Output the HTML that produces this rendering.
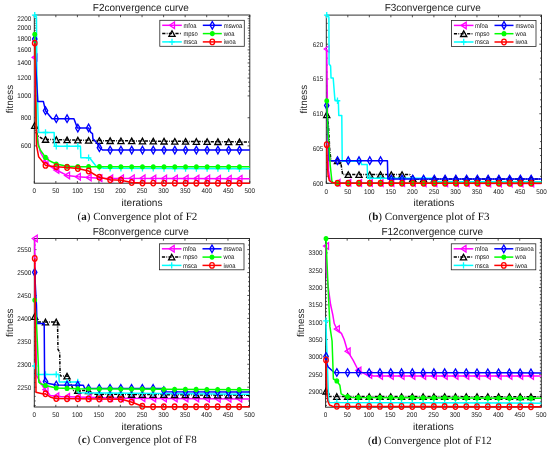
<!DOCTYPE html>
<html><head><meta charset="utf-8"><title>Convergence curves</title>
<style>html,body{margin:0;padding:0;background:#fff;}svg{display:block;text-rendering:geometricPrecision;}</style>
</head><body>
<svg width="550" height="449" viewBox="0 0 550 449">
<rect width="550" height="449" fill="#fff"/>
<path d="M34.3 183.2V181M34.3 15V17.2M55.85 183.2V181M55.85 15V17.2M77.4 183.2V181M77.4 15V17.2M98.95 183.2V181M98.95 15V17.2M120.5 183.2V181M120.5 15V17.2M142.05 183.2V181M142.05 15V17.2M163.6 183.2V181M163.6 15V17.2M185.15 183.2V181M185.15 15V17.2M206.7 183.2V181M206.7 15V17.2M228.25 183.2V181M228.25 15V17.2M249.8 183.2V181M249.8 15V17.2M34.3 145.9H36.5M249.8 145.9H247.6M34.3 117.74H36.5M249.8 117.74H247.6M34.3 95.9H36.5M249.8 95.9H247.6M34.3 78.05H36.5M249.8 78.05H247.6M34.3 62.96H36.5M249.8 62.96H247.6M34.3 49.89H36.5M249.8 49.89H247.6M34.3 38.36H36.5M249.8 38.36H247.6M34.3 28.05H36.5M249.8 28.05H247.6M34.3 18.72H36.5M249.8 18.72H247.6M34.3 91.12H35.7M249.8 91.12H248.4M34.3 86.57H35.7M249.8 86.57H248.4M34.3 82.22H35.7M249.8 82.22H248.4M34.3 74.06H35.7M249.8 74.06H248.4M34.3 70.22H35.7M249.8 70.22H248.4M34.3 66.52H35.7M249.8 66.52H248.4M34.3 59.53H35.7M249.8 59.53H248.4M34.3 56.21H35.7M249.8 56.21H248.4M34.3 53H35.7M249.8 53H248.4M34.3 46.88H35.7M249.8 46.88H248.4M34.3 43.96H35.7M249.8 43.96H248.4M34.3 41.12H35.7M249.8 41.12H248.4M34.3 35.68H35.7M249.8 35.68H248.4M34.3 33.07H35.7M249.8 33.07H248.4M34.3 30.53H35.7M249.8 30.53H248.4M34.3 25.63H35.7M249.8 25.63H248.4M34.3 23.27H35.7M249.8 23.27H248.4M34.3 20.97H35.7M249.8 20.97H248.4M34.3 16.52H35.7M249.8 16.52H248.4" stroke="#262626" stroke-width="0.8" fill="none"/>
<rect x="34.3" y="15" width="215.5" height="168.2" fill="none" stroke="#262626" stroke-width="0.95"/>
<g font-family="'Liberation Sans', Arial, Helvetica, sans-serif" fill="#222"><text transform="translate(34.3 193.4) scale(0.93 1)" font-size="6.8" text-anchor="middle">0</text><text transform="translate(55.85 193.4) scale(0.93 1)" font-size="6.8" text-anchor="middle">50</text><text transform="translate(77.4 193.4) scale(0.93 1)" font-size="6.8" text-anchor="middle">100</text><text transform="translate(98.95 193.4) scale(0.93 1)" font-size="6.8" text-anchor="middle">150</text><text transform="translate(120.5 193.4) scale(0.93 1)" font-size="6.8" text-anchor="middle">200</text><text transform="translate(142.05 193.4) scale(0.93 1)" font-size="6.8" text-anchor="middle">250</text><text transform="translate(163.6 193.4) scale(0.93 1)" font-size="6.8" text-anchor="middle">300</text><text transform="translate(185.15 193.4) scale(0.93 1)" font-size="6.8" text-anchor="middle">350</text><text transform="translate(206.7 193.4) scale(0.93 1)" font-size="6.8" text-anchor="middle">400</text><text transform="translate(228.25 193.4) scale(0.93 1)" font-size="6.8" text-anchor="middle">450</text><text transform="translate(249.8 193.4) scale(0.93 1)" font-size="6.8" text-anchor="middle">500</text><text transform="translate(31.3 148.3) scale(0.93 1)" font-size="6.8" text-anchor="end">600</text><text transform="translate(31.3 120.14) scale(0.93 1)" font-size="6.8" text-anchor="end">800</text><text transform="translate(31.3 98.3) scale(0.93 1)" font-size="6.8" text-anchor="end">1000</text><text transform="translate(31.3 80.45) scale(0.93 1)" font-size="6.8" text-anchor="end">1200</text><text transform="translate(31.3 65.36) scale(0.93 1)" font-size="6.8" text-anchor="end">1400</text><text transform="translate(31.3 52.29) scale(0.93 1)" font-size="6.8" text-anchor="end">1600</text><text transform="translate(31.3 40.76) scale(0.93 1)" font-size="6.8" text-anchor="end">1800</text><text transform="translate(31.3 30.45) scale(0.93 1)" font-size="6.8" text-anchor="end">2000</text><text transform="translate(31.3 21.12) scale(0.93 1)" font-size="6.8" text-anchor="end">2200</text></g>
<polyline points="34.73,57.4 35.16,85 36.02,120 37.32,136 38.61,145 40.77,153 45.51,161.4 50.68,166.5 56.28,170 67.06,175.4 77.83,176.8 88.61,177.5 99.38,178.2 249.8,178.8" fill="none" stroke="#ff00ff" stroke-width="1.5" stroke-linejoin="round"/>
<polygon points="32.23,57.4 37.23,54.1 37.23,60.7" fill="none" stroke="#ff00ff" stroke-width="1.3"/><polygon points="43.01,161.4 48.01,158.1 48.01,164.7" fill="none" stroke="#ff00ff" stroke-width="1.3"/><polygon points="53.78,170 58.78,166.7 58.78,173.3" fill="none" stroke="#ff00ff" stroke-width="1.3"/><polygon points="64.56,175.4 69.56,172.1 69.56,178.7" fill="none" stroke="#ff00ff" stroke-width="1.3"/><polygon points="75.33,176.8 80.33,173.5 80.33,180.1" fill="none" stroke="#ff00ff" stroke-width="1.3"/><polygon points="86.11,177.5 91.11,174.2 91.11,180.8" fill="none" stroke="#ff00ff" stroke-width="1.3"/><polygon points="96.88,178.2 101.88,174.9 101.88,181.5" fill="none" stroke="#ff00ff" stroke-width="1.3"/><polygon points="107.66,178.24 112.66,174.94 112.66,181.54" fill="none" stroke="#ff00ff" stroke-width="1.3"/><polygon points="118.43,178.29 123.43,174.99 123.43,181.59" fill="none" stroke="#ff00ff" stroke-width="1.3"/><polygon points="129.21,178.33 134.21,175.03 134.21,181.63" fill="none" stroke="#ff00ff" stroke-width="1.3"/><polygon points="139.98,178.37 144.98,175.07 144.98,181.67" fill="none" stroke="#ff00ff" stroke-width="1.3"/><polygon points="150.76,178.41 155.76,175.11 155.76,181.71" fill="none" stroke="#ff00ff" stroke-width="1.3"/><polygon points="161.53,178.46 166.53,175.16 166.53,181.76" fill="none" stroke="#ff00ff" stroke-width="1.3"/><polygon points="172.31,178.5 177.31,175.2 177.31,181.8" fill="none" stroke="#ff00ff" stroke-width="1.3"/><polygon points="183.08,178.54 188.08,175.24 188.08,181.84" fill="none" stroke="#ff00ff" stroke-width="1.3"/><polygon points="193.86,178.59 198.86,175.29 198.86,181.89" fill="none" stroke="#ff00ff" stroke-width="1.3"/><polygon points="204.63,178.63 209.63,175.33 209.63,181.93" fill="none" stroke="#ff00ff" stroke-width="1.3"/><polygon points="215.41,178.67 220.41,175.37 220.41,181.97" fill="none" stroke="#ff00ff" stroke-width="1.3"/><polygon points="226.18,178.72 231.18,175.42 231.18,182.02" fill="none" stroke="#ff00ff" stroke-width="1.3"/><polygon points="236.96,178.76 241.96,175.46 241.96,182.06" fill="none" stroke="#ff00ff" stroke-width="1.3"/>
<polyline points="34.73,125.5 36.02,132.5 38.61,136.3 43.35,139.4 99.38,140.6 249.8,142" fill="none" stroke="#000000" stroke-width="1.5" stroke-linejoin="round" stroke-dasharray="3.2 1.3 0.8 1.3"/>
<polygon points="34.73,122.7 37.83,128.3 31.63,128.3" fill="none" stroke="#000000" stroke-width="1.3"/><polygon points="45.51,136.65 48.61,142.25 42.41,142.25" fill="none" stroke="#000000" stroke-width="1.3"/><polygon points="56.28,136.88 59.38,142.48 53.18,142.48" fill="none" stroke="#000000" stroke-width="1.3"/><polygon points="67.06,137.11 70.16,142.71 63.96,142.71" fill="none" stroke="#000000" stroke-width="1.3"/><polygon points="77.83,137.34 80.93,142.94 74.73,142.94" fill="none" stroke="#000000" stroke-width="1.3"/><polygon points="88.61,137.57 91.71,143.17 85.51,143.17" fill="none" stroke="#000000" stroke-width="1.3"/><polygon points="99.38,137.8 102.48,143.4 96.28,143.4" fill="none" stroke="#000000" stroke-width="1.3"/><polygon points="110.16,137.9 113.26,143.5 107.06,143.5" fill="none" stroke="#000000" stroke-width="1.3"/><polygon points="120.93,138 124.03,143.6 117.83,143.6" fill="none" stroke="#000000" stroke-width="1.3"/><polygon points="131.71,138.1 134.81,143.7 128.61,143.7" fill="none" stroke="#000000" stroke-width="1.3"/><polygon points="142.48,138.2 145.58,143.8 139.38,143.8" fill="none" stroke="#000000" stroke-width="1.3"/><polygon points="153.26,138.3 156.36,143.9 150.16,143.9" fill="none" stroke="#000000" stroke-width="1.3"/><polygon points="164.03,138.4 167.13,144 160.93,144" fill="none" stroke="#000000" stroke-width="1.3"/><polygon points="174.81,138.5 177.91,144.1 171.71,144.1" fill="none" stroke="#000000" stroke-width="1.3"/><polygon points="185.58,138.6 188.68,144.2 182.48,144.2" fill="none" stroke="#000000" stroke-width="1.3"/><polygon points="196.36,138.7 199.46,144.3 193.26,144.3" fill="none" stroke="#000000" stroke-width="1.3"/><polygon points="207.13,138.8 210.23,144.4 204.03,144.4" fill="none" stroke="#000000" stroke-width="1.3"/><polygon points="217.91,138.9 221.01,144.5 214.81,144.5" fill="none" stroke="#000000" stroke-width="1.3"/><polygon points="228.68,139 231.78,144.6 225.58,144.6" fill="none" stroke="#000000" stroke-width="1.3"/><polygon points="239.46,139.1 242.56,144.7 236.36,144.7" fill="none" stroke="#000000" stroke-width="1.3"/>
<polyline points="34.73,15.1 36.45,17 36.89,75 38.18,120 38.61,132.5 54.13,132.5 54.56,146.3 80.42,146.3 80.85,157.8 89.47,157.8 96.36,166.5 103.69,168.2 249.8,168.8" fill="none" stroke="#00ffff" stroke-width="1.5" stroke-linejoin="round"/>
<path d="M31.93 15.1H37.53M34.73 11.9V18.3" stroke="#00ffff" stroke-width="1.3" fill="none"/><path d="M42.71 132.5H48.31M45.51 129.3V135.7" stroke="#00ffff" stroke-width="1.3" fill="none"/><path d="M53.48 146.3H59.08M56.28 143.1V149.5" stroke="#00ffff" stroke-width="1.3" fill="none"/><path d="M64.26 146.3H69.86M67.06 143.1V149.5" stroke="#00ffff" stroke-width="1.3" fill="none"/><path d="M75.03 146.3H80.63M77.83 143.1V149.5" stroke="#00ffff" stroke-width="1.3" fill="none"/><path d="M85.81 157.8H91.41M88.61 154.6V161" stroke="#00ffff" stroke-width="1.3" fill="none"/><path d="M96.58 167.2H102.18M99.38 164V170.4" stroke="#00ffff" stroke-width="1.3" fill="none"/><path d="M107.36 168.23H112.96M110.16 165.03V171.43" stroke="#00ffff" stroke-width="1.3" fill="none"/><path d="M118.13 168.27H123.73M120.93 165.07V171.47" stroke="#00ffff" stroke-width="1.3" fill="none"/><path d="M128.91 168.32H134.51M131.71 165.12V171.52" stroke="#00ffff" stroke-width="1.3" fill="none"/><path d="M139.68 168.36H145.28M142.48 165.16V171.56" stroke="#00ffff" stroke-width="1.3" fill="none"/><path d="M150.46 168.4H156.06M153.26 165.2V171.6" stroke="#00ffff" stroke-width="1.3" fill="none"/><path d="M161.23 168.45H166.83M164.03 165.25V171.65" stroke="#00ffff" stroke-width="1.3" fill="none"/><path d="M172.01 168.49H177.61M174.81 165.29V171.69" stroke="#00ffff" stroke-width="1.3" fill="none"/><path d="M182.78 168.54H188.38M185.58 165.34V171.74" stroke="#00ffff" stroke-width="1.3" fill="none"/><path d="M193.56 168.58H199.16M196.36 165.38V171.78" stroke="#00ffff" stroke-width="1.3" fill="none"/><path d="M204.33 168.62H209.93M207.13 165.42V171.82" stroke="#00ffff" stroke-width="1.3" fill="none"/><path d="M215.11 168.67H220.71M217.91 165.47V171.87" stroke="#00ffff" stroke-width="1.3" fill="none"/><path d="M225.88 168.71H231.48M228.68 165.51V171.91" stroke="#00ffff" stroke-width="1.3" fill="none"/><path d="M236.66 168.76H242.26M239.46 165.56V171.96" stroke="#00ffff" stroke-width="1.3" fill="none"/>
<polyline points="34.73,39.1 36.02,70 37.75,101.4 43.35,101.4 45.51,110.7 51.97,118.7 73.95,118.7 77.4,128.1 88.61,127.9 90.76,132.4 92.48,133.6 92.92,138.9 94.64,140.5 97.66,144.1 99.38,147.7 102.83,150.1 249.8,150.1" fill="none" stroke="#0000ff" stroke-width="1.5" stroke-linejoin="round"/>
<polygon points="34.73,35.3 36.93,39.1 34.73,42.9 32.53,39.1" fill="none" stroke="#0000ff" stroke-width="1.3"/><polygon points="45.51,106.9 47.71,110.7 45.51,114.5 43.31,110.7" fill="none" stroke="#0000ff" stroke-width="1.3"/><polygon points="56.28,114.9 58.48,118.7 56.28,122.5 54.08,118.7" fill="none" stroke="#0000ff" stroke-width="1.3"/><polygon points="67.06,114.9 69.26,118.7 67.06,122.5 64.86,118.7" fill="none" stroke="#0000ff" stroke-width="1.3"/><polygon points="77.83,124.29 80.03,128.09 77.83,131.89 75.63,128.09" fill="none" stroke="#0000ff" stroke-width="1.3"/><polygon points="88.61,124.1 90.81,127.9 88.61,131.7 86.41,127.9" fill="none" stroke="#0000ff" stroke-width="1.3"/><polygon points="99.38,143.9 101.58,147.7 99.38,151.5 97.18,147.7" fill="none" stroke="#0000ff" stroke-width="1.3"/><polygon points="110.16,146.3 112.36,150.1 110.16,153.9 107.96,150.1" fill="none" stroke="#0000ff" stroke-width="1.3"/><polygon points="120.93,146.3 123.13,150.1 120.93,153.9 118.73,150.1" fill="none" stroke="#0000ff" stroke-width="1.3"/><polygon points="131.71,146.3 133.91,150.1 131.71,153.9 129.51,150.1" fill="none" stroke="#0000ff" stroke-width="1.3"/><polygon points="142.48,146.3 144.68,150.1 142.48,153.9 140.28,150.1" fill="none" stroke="#0000ff" stroke-width="1.3"/><polygon points="153.26,146.3 155.46,150.1 153.26,153.9 151.06,150.1" fill="none" stroke="#0000ff" stroke-width="1.3"/><polygon points="164.03,146.3 166.23,150.1 164.03,153.9 161.83,150.1" fill="none" stroke="#0000ff" stroke-width="1.3"/><polygon points="174.81,146.3 177.01,150.1 174.81,153.9 172.61,150.1" fill="none" stroke="#0000ff" stroke-width="1.3"/><polygon points="185.58,146.3 187.78,150.1 185.58,153.9 183.38,150.1" fill="none" stroke="#0000ff" stroke-width="1.3"/><polygon points="196.36,146.3 198.56,150.1 196.36,153.9 194.16,150.1" fill="none" stroke="#0000ff" stroke-width="1.3"/><polygon points="207.13,146.3 209.33,150.1 207.13,153.9 204.93,150.1" fill="none" stroke="#0000ff" stroke-width="1.3"/><polygon points="217.91,146.3 220.11,150.1 217.91,153.9 215.71,150.1" fill="none" stroke="#0000ff" stroke-width="1.3"/><polygon points="228.68,146.3 230.88,150.1 228.68,153.9 226.48,150.1" fill="none" stroke="#0000ff" stroke-width="1.3"/><polygon points="239.46,146.3 241.66,150.1 239.46,153.9 237.26,150.1" fill="none" stroke="#0000ff" stroke-width="1.3"/>
<polyline points="34.73,34.3 35.59,90 36.45,130 38.18,145 40.33,150 45.51,157.4 49.82,161 56.28,164 67.06,166.3 77.83,166.7 249.8,166.8" fill="none" stroke="#00ff00" stroke-width="1.5" stroke-linejoin="round"/>
<ellipse cx="34.73" cy="34.3" rx="2.4" ry="2.6" fill="#00ff00"/><ellipse cx="45.51" cy="157.4" rx="2.4" ry="2.6" fill="#00ff00"/><ellipse cx="56.28" cy="164" rx="2.4" ry="2.6" fill="#00ff00"/><ellipse cx="67.06" cy="166.3" rx="2.4" ry="2.6" fill="#00ff00"/><ellipse cx="77.83" cy="166.7" rx="2.4" ry="2.6" fill="#00ff00"/><ellipse cx="88.61" cy="166.71" rx="2.4" ry="2.6" fill="#00ff00"/><ellipse cx="99.38" cy="166.71" rx="2.4" ry="2.6" fill="#00ff00"/><ellipse cx="110.16" cy="166.72" rx="2.4" ry="2.6" fill="#00ff00"/><ellipse cx="120.93" cy="166.73" rx="2.4" ry="2.6" fill="#00ff00"/><ellipse cx="131.71" cy="166.73" rx="2.4" ry="2.6" fill="#00ff00"/><ellipse cx="142.48" cy="166.74" rx="2.4" ry="2.6" fill="#00ff00"/><ellipse cx="153.26" cy="166.74" rx="2.4" ry="2.6" fill="#00ff00"/><ellipse cx="164.03" cy="166.75" rx="2.4" ry="2.6" fill="#00ff00"/><ellipse cx="174.81" cy="166.76" rx="2.4" ry="2.6" fill="#00ff00"/><ellipse cx="185.58" cy="166.76" rx="2.4" ry="2.6" fill="#00ff00"/><ellipse cx="196.36" cy="166.77" rx="2.4" ry="2.6" fill="#00ff00"/><ellipse cx="207.13" cy="166.78" rx="2.4" ry="2.6" fill="#00ff00"/><ellipse cx="217.91" cy="166.78" rx="2.4" ry="2.6" fill="#00ff00"/><ellipse cx="228.68" cy="166.79" rx="2.4" ry="2.6" fill="#00ff00"/><ellipse cx="239.46" cy="166.79" rx="2.4" ry="2.6" fill="#00ff00"/>
<polyline points="34.73,43.1 35.59,100 36.45,145 38.61,156.7 45.51,165.4 56.28,166.7 67.06,167.5 77.83,168.5 88.61,171 99.38,177.3 110.16,179.8 120.93,180.3 131.71,182.5 142.48,183.1 249.8,183.3" fill="none" stroke="#ff0000" stroke-width="1.5" stroke-linejoin="round"/>
<ellipse cx="34.73" cy="43.1" rx="2.3" ry="2.8" fill="none" stroke="#ff0000" stroke-width="1.3"/><ellipse cx="45.51" cy="165.4" rx="2.3" ry="2.8" fill="none" stroke="#ff0000" stroke-width="1.3"/><ellipse cx="56.28" cy="166.7" rx="2.3" ry="2.8" fill="none" stroke="#ff0000" stroke-width="1.3"/><ellipse cx="67.06" cy="167.5" rx="2.3" ry="2.8" fill="none" stroke="#ff0000" stroke-width="1.3"/><ellipse cx="77.83" cy="168.5" rx="2.3" ry="2.8" fill="none" stroke="#ff0000" stroke-width="1.3"/><ellipse cx="88.61" cy="171" rx="2.3" ry="2.8" fill="none" stroke="#ff0000" stroke-width="1.3"/><ellipse cx="99.38" cy="177.3" rx="2.3" ry="2.8" fill="none" stroke="#ff0000" stroke-width="1.3"/><ellipse cx="110.16" cy="179.8" rx="2.3" ry="2.8" fill="none" stroke="#ff0000" stroke-width="1.3"/><ellipse cx="120.93" cy="180.3" rx="2.3" ry="2.8" fill="none" stroke="#ff0000" stroke-width="1.3"/><ellipse cx="131.71" cy="182.5" rx="2.3" ry="2.8" fill="none" stroke="#ff0000" stroke-width="1.3"/><ellipse cx="142.48" cy="183.1" rx="2.3" ry="2.8" fill="none" stroke="#ff0000" stroke-width="1.3"/><ellipse cx="153.26" cy="183.12" rx="2.3" ry="2.8" fill="none" stroke="#ff0000" stroke-width="1.3"/><ellipse cx="164.03" cy="183.14" rx="2.3" ry="2.8" fill="none" stroke="#ff0000" stroke-width="1.3"/><ellipse cx="174.81" cy="183.16" rx="2.3" ry="2.8" fill="none" stroke="#ff0000" stroke-width="1.3"/><ellipse cx="185.58" cy="183.18" rx="2.3" ry="2.8" fill="none" stroke="#ff0000" stroke-width="1.3"/><ellipse cx="196.36" cy="183.2" rx="2.3" ry="2.8" fill="none" stroke="#ff0000" stroke-width="1.3"/><ellipse cx="207.13" cy="183.22" rx="2.3" ry="2.8" fill="none" stroke="#ff0000" stroke-width="1.3"/><ellipse cx="217.91" cy="183.24" rx="2.3" ry="2.8" fill="none" stroke="#ff0000" stroke-width="1.3"/><ellipse cx="228.68" cy="183.26" rx="2.3" ry="2.8" fill="none" stroke="#ff0000" stroke-width="1.3"/><ellipse cx="239.46" cy="183.28" rx="2.3" ry="2.8" fill="none" stroke="#ff0000" stroke-width="1.3"/>
<g font-family="'Liberation Sans', Arial, Helvetica, sans-serif" fill="#1a1a1a"><text transform="translate(140.85 11.1) scale(0.97 1)" font-size="10.3" text-anchor="middle">F2convergence curve</text></g>
<text x="142.05" y="206.1" text-anchor="middle" font-family="'Liberation Sans', Arial, Helvetica, sans-serif" font-size="10.1" fill="#1a1a1a">iterations</text>
<text transform="translate(12.7 99.1) rotate(-90)" text-anchor="middle" font-family="'Liberation Sans', Arial, Helvetica, sans-serif" font-size="9.9" fill="#262626">fitness</text>
<rect x="159.8" y="20.3" width="84.5" height="26" fill="#fff" stroke="#262626" stroke-width="0.8"/>
<g font-family="'Liberation Sans', Arial, Helvetica, sans-serif" fill="#111"><path d="M162.2 25.3H181.8" stroke="#ff00ff" stroke-width="1.5"/><polygon points="169.5,25.3 174.5,22 174.5,28.6" fill="none" stroke="#ff00ff" stroke-width="1.3"/><text transform="translate(183.4 27.6) scale(0.86 1)" font-size="6.8">mfoa</text><path d="M162.2 33.6H181.8" stroke="#000000" stroke-width="1.5" stroke-dasharray="3.2 1.3 0.8 1.3"/><polygon points="172,30.8 175.1,36.4 168.9,36.4" fill="none" stroke="#000000" stroke-width="1.3"/><text transform="translate(183.4 35.9) scale(0.86 1)" font-size="6.8">mpso</text><path d="M162.2 41.9H181.8" stroke="#00ffff" stroke-width="1.5"/><path d="M169.2 41.9H174.8M172 38.7V45.1" stroke="#00ffff" stroke-width="1.3" fill="none"/><text transform="translate(183.4 44.2) scale(0.86 1)" font-size="6.8">msca</text><path d="M202.8 25.3H221.8" stroke="#0000ff" stroke-width="1.5"/><polygon points="212.3,21.5 214.5,25.3 212.3,29.1 210.1,25.3" fill="none" stroke="#0000ff" stroke-width="1.3"/><text transform="translate(223.8 27.6) scale(0.86 1)" font-size="6.8">mswoa</text><path d="M202.8 33.6H221.8" stroke="#00ff00" stroke-width="1.5"/><ellipse cx="212.3" cy="33.6" rx="2.4" ry="2.6" fill="#00ff00"/><text transform="translate(223.8 35.9) scale(0.86 1)" font-size="6.8">woa</text><path d="M202.8 41.9H221.8" stroke="#ff0000" stroke-width="1.5"/><ellipse cx="212.3" cy="41.9" rx="2.3" ry="2.8" fill="none" stroke="#ff0000" stroke-width="1.3"/><text transform="translate(223.8 44.2) scale(0.86 1)" font-size="6.8">iwoa</text></g>
<text x="77.6" y="220" font-family="'Liberation Serif', 'Times New Roman', serif" font-size="11.0" fill="#111" textLength="119.7" lengthAdjust="spacingAndGlyphs">(<tspan font-weight="bold">a</tspan>) Convergence plot of F2</text>
<path d="M326.3 183.3V181.1M326.3 15.1V17.3M347.82 183.3V181.1M347.82 15.1V17.3M369.34 183.3V181.1M369.34 15.1V17.3M390.86 183.3V181.1M390.86 15.1V17.3M412.38 183.3V181.1M412.38 15.1V17.3M433.9 183.3V181.1M433.9 15.1V17.3M455.42 183.3V181.1M455.42 15.1V17.3M476.94 183.3V181.1M476.94 15.1V17.3M498.46 183.3V181.1M498.46 15.1V17.3M519.98 183.3V181.1M519.98 15.1V17.3M541.5 183.3V181.1M541.5 15.1V17.3M326.3 183.3H328.5M541.5 183.3H539.3M326.3 148.53H328.5M541.5 148.53H539.3M326.3 113.75H328.5M541.5 113.75H539.3M326.3 78.98H328.5M541.5 78.98H539.3M326.3 44.2H328.5M541.5 44.2H539.3M326.3 176.34H327.7M541.5 176.34H540.1M326.3 169.39H327.7M541.5 169.39H540.1M326.3 162.44H327.7M541.5 162.44H540.1M326.3 155.48H327.7M541.5 155.48H540.1M326.3 141.57H327.7M541.5 141.57H540.1M326.3 134.62H327.7M541.5 134.62H540.1M326.3 127.66H327.7M541.5 127.66H540.1M326.3 120.71H327.7M541.5 120.71H540.1M326.3 106.8H327.7M541.5 106.8H540.1M326.3 99.84H327.7M541.5 99.84H540.1M326.3 92.89H327.7M541.5 92.89H540.1M326.3 85.93H327.7M541.5 85.93H540.1M326.3 72.02H327.7M541.5 72.02H540.1M326.3 65.07H327.7M541.5 65.07H540.1M326.3 58.11H327.7M541.5 58.11H540.1M326.3 51.16H327.7M541.5 51.16H540.1M326.3 37.25H327.7M541.5 37.25H540.1M326.3 30.29H327.7M541.5 30.29H540.1M326.3 23.34H327.7M541.5 23.34H540.1M326.3 16.38H327.7M541.5 16.38H540.1" stroke="#262626" stroke-width="0.8" fill="none"/>
<rect x="326.3" y="15.1" width="215.2" height="168.2" fill="none" stroke="#262626" stroke-width="0.95"/>
<g font-family="'Liberation Sans', Arial, Helvetica, sans-serif" fill="#222"><text transform="translate(326.3 193.5) scale(0.93 1)" font-size="6.8" text-anchor="middle">0</text><text transform="translate(347.82 193.5) scale(0.93 1)" font-size="6.8" text-anchor="middle">50</text><text transform="translate(369.34 193.5) scale(0.93 1)" font-size="6.8" text-anchor="middle">100</text><text transform="translate(390.86 193.5) scale(0.93 1)" font-size="6.8" text-anchor="middle">150</text><text transform="translate(412.38 193.5) scale(0.93 1)" font-size="6.8" text-anchor="middle">200</text><text transform="translate(433.9 193.5) scale(0.93 1)" font-size="6.8" text-anchor="middle">250</text><text transform="translate(455.42 193.5) scale(0.93 1)" font-size="6.8" text-anchor="middle">300</text><text transform="translate(476.94 193.5) scale(0.93 1)" font-size="6.8" text-anchor="middle">350</text><text transform="translate(498.46 193.5) scale(0.93 1)" font-size="6.8" text-anchor="middle">400</text><text transform="translate(519.98 193.5) scale(0.93 1)" font-size="6.8" text-anchor="middle">450</text><text transform="translate(541.5 193.5) scale(0.93 1)" font-size="6.8" text-anchor="middle">500</text><text transform="translate(323.3 185.7) scale(0.93 1)" font-size="6.8" text-anchor="end">600</text><text transform="translate(323.3 150.93) scale(0.93 1)" font-size="6.8" text-anchor="end">605</text><text transform="translate(323.3 116.15) scale(0.93 1)" font-size="6.8" text-anchor="end">610</text><text transform="translate(323.3 81.38) scale(0.93 1)" font-size="6.8" text-anchor="end">615</text><text transform="translate(323.3 46.6) scale(0.93 1)" font-size="6.8" text-anchor="end">620</text></g>
<polyline points="326.73,49 327.59,120 328.45,170 330.17,181 333.19,182.8 541.5,183.6" fill="none" stroke="#ff00ff" stroke-width="1.5" stroke-linejoin="round"/>
<polygon points="324.23,49 329.23,45.7 329.23,52.3" fill="none" stroke="#ff00ff" stroke-width="1.3"/><polygon points="334.99,182.82 339.99,179.52 339.99,186.12" fill="none" stroke="#ff00ff" stroke-width="1.3"/><polygon points="345.75,182.86 350.75,179.56 350.75,186.16" fill="none" stroke="#ff00ff" stroke-width="1.3"/><polygon points="356.51,182.9 361.51,179.6 361.51,186.2" fill="none" stroke="#ff00ff" stroke-width="1.3"/><polygon points="367.27,182.94 372.27,179.64 372.27,186.24" fill="none" stroke="#ff00ff" stroke-width="1.3"/><polygon points="378.03,182.98 383.03,179.68 383.03,186.28" fill="none" stroke="#ff00ff" stroke-width="1.3"/><polygon points="388.79,183.02 393.79,179.72 393.79,186.32" fill="none" stroke="#ff00ff" stroke-width="1.3"/><polygon points="399.55,183.06 404.55,179.76 404.55,186.36" fill="none" stroke="#ff00ff" stroke-width="1.3"/><polygon points="410.31,183.11 415.31,179.81 415.31,186.41" fill="none" stroke="#ff00ff" stroke-width="1.3"/><polygon points="421.07,183.15 426.07,179.85 426.07,186.45" fill="none" stroke="#ff00ff" stroke-width="1.3"/><polygon points="431.83,183.19 436.83,179.89 436.83,186.49" fill="none" stroke="#ff00ff" stroke-width="1.3"/><polygon points="442.59,183.23 447.59,179.93 447.59,186.53" fill="none" stroke="#ff00ff" stroke-width="1.3"/><polygon points="453.35,183.27 458.35,179.97 458.35,186.57" fill="none" stroke="#ff00ff" stroke-width="1.3"/><polygon points="464.11,183.31 469.11,180.01 469.11,186.61" fill="none" stroke="#ff00ff" stroke-width="1.3"/><polygon points="474.87,183.35 479.87,180.05 479.87,186.65" fill="none" stroke="#ff00ff" stroke-width="1.3"/><polygon points="485.63,183.4 490.63,180.1 490.63,186.7" fill="none" stroke="#ff00ff" stroke-width="1.3"/><polygon points="496.39,183.44 501.39,180.14 501.39,186.74" fill="none" stroke="#ff00ff" stroke-width="1.3"/><polygon points="507.15,183.48 512.15,180.18 512.15,186.78" fill="none" stroke="#ff00ff" stroke-width="1.3"/><polygon points="517.91,183.52 522.91,180.22 522.91,186.82" fill="none" stroke="#ff00ff" stroke-width="1.3"/><polygon points="528.67,183.56 533.67,180.26 533.67,186.86" fill="none" stroke="#ff00ff" stroke-width="1.3"/>
<polyline points="326.73,114.8 328.45,125 329.74,150 331.03,160.7 340.5,160.7 342.66,174.6 409.8,174.6 411.95,178.3 414.53,179.1 541.5,179.1" fill="none" stroke="#000000" stroke-width="1.5" stroke-linejoin="round" stroke-dasharray="3.2 1.3 0.8 1.3"/>
<polygon points="326.73,112 329.83,117.6 323.63,117.6" fill="none" stroke="#000000" stroke-width="1.3"/><polygon points="337.49,157.9 340.59,163.5 334.39,163.5" fill="none" stroke="#000000" stroke-width="1.3"/><polygon points="348.25,171.8 351.35,177.4 345.15,177.4" fill="none" stroke="#000000" stroke-width="1.3"/><polygon points="359.01,171.8 362.11,177.4 355.91,177.4" fill="none" stroke="#000000" stroke-width="1.3"/><polygon points="369.77,171.8 372.87,177.4 366.67,177.4" fill="none" stroke="#000000" stroke-width="1.3"/><polygon points="380.53,171.8 383.63,177.4 377.43,177.4" fill="none" stroke="#000000" stroke-width="1.3"/><polygon points="391.29,171.8 394.39,177.4 388.19,177.4" fill="none" stroke="#000000" stroke-width="1.3"/><polygon points="402.05,171.8 405.15,177.4 398.95,177.4" fill="none" stroke="#000000" stroke-width="1.3"/><polygon points="412.81,175.77 415.91,181.37 409.71,181.37" fill="none" stroke="#000000" stroke-width="1.3"/><polygon points="423.57,176.3 426.67,181.9 420.47,181.9" fill="none" stroke="#000000" stroke-width="1.3"/><polygon points="434.33,176.3 437.43,181.9 431.23,181.9" fill="none" stroke="#000000" stroke-width="1.3"/><polygon points="445.09,176.3 448.19,181.9 441.99,181.9" fill="none" stroke="#000000" stroke-width="1.3"/><polygon points="455.85,176.3 458.95,181.9 452.75,181.9" fill="none" stroke="#000000" stroke-width="1.3"/><polygon points="466.61,176.3 469.71,181.9 463.51,181.9" fill="none" stroke="#000000" stroke-width="1.3"/><polygon points="477.37,176.3 480.47,181.9 474.27,181.9" fill="none" stroke="#000000" stroke-width="1.3"/><polygon points="488.13,176.3 491.23,181.9 485.03,181.9" fill="none" stroke="#000000" stroke-width="1.3"/><polygon points="498.89,176.3 501.99,181.9 495.79,181.9" fill="none" stroke="#000000" stroke-width="1.3"/><polygon points="509.65,176.3 512.75,181.9 506.55,181.9" fill="none" stroke="#000000" stroke-width="1.3"/><polygon points="520.41,176.3 523.51,181.9 517.31,181.9" fill="none" stroke="#000000" stroke-width="1.3"/><polygon points="531.17,176.3 534.27,181.9 528.07,181.9" fill="none" stroke="#000000" stroke-width="1.3"/>
<polyline points="326.73,15.1 328.88,17 329.1,64 330.6,66 331.03,78 333.19,78 334.91,100 338.35,101 338.78,115.5 341.79,115.5 342.22,161.2 360.73,161.2 361.59,164.5 367.19,164.5 367.62,178.3 432.18,178.3 432.61,181.8 541.5,181.8" fill="none" stroke="#00ffff" stroke-width="1.5" stroke-linejoin="round"/>
<path d="M323.93 15.1H329.53M326.73 11.9V18.3" stroke="#00ffff" stroke-width="1.3" fill="none"/><path d="M334.69 100.75H340.29M337.49 97.55V103.95" stroke="#00ffff" stroke-width="1.3" fill="none"/><path d="M345.45 161.2H351.05M348.25 158V164.4" stroke="#00ffff" stroke-width="1.3" fill="none"/><path d="M356.21 161.2H361.81M359.01 158V164.4" stroke="#00ffff" stroke-width="1.3" fill="none"/><path d="M366.97 178.3H372.57M369.77 175.1V181.5" stroke="#00ffff" stroke-width="1.3" fill="none"/><path d="M377.73 178.3H383.33M380.53 175.1V181.5" stroke="#00ffff" stroke-width="1.3" fill="none"/><path d="M388.49 178.3H394.09M391.29 175.1V181.5" stroke="#00ffff" stroke-width="1.3" fill="none"/><path d="M399.25 178.3H404.85M402.05 175.1V181.5" stroke="#00ffff" stroke-width="1.3" fill="none"/><path d="M410.01 178.3H415.61M412.81 175.1V181.5" stroke="#00ffff" stroke-width="1.3" fill="none"/><path d="M420.77 178.3H426.37M423.57 175.1V181.5" stroke="#00ffff" stroke-width="1.3" fill="none"/><path d="M431.53 181.8H437.13M434.33 178.6V185" stroke="#00ffff" stroke-width="1.3" fill="none"/><path d="M442.29 181.8H447.89M445.09 178.6V185" stroke="#00ffff" stroke-width="1.3" fill="none"/><path d="M453.05 181.8H458.65M455.85 178.6V185" stroke="#00ffff" stroke-width="1.3" fill="none"/><path d="M463.81 181.8H469.41M466.61 178.6V185" stroke="#00ffff" stroke-width="1.3" fill="none"/><path d="M474.57 181.8H480.17M477.37 178.6V185" stroke="#00ffff" stroke-width="1.3" fill="none"/><path d="M485.33 181.8H490.93M488.13 178.6V185" stroke="#00ffff" stroke-width="1.3" fill="none"/><path d="M496.09 181.8H501.69M498.89 178.6V185" stroke="#00ffff" stroke-width="1.3" fill="none"/><path d="M506.85 181.8H512.45M509.65 178.6V185" stroke="#00ffff" stroke-width="1.3" fill="none"/><path d="M517.61 181.8H523.21M520.41 178.6V185" stroke="#00ffff" stroke-width="1.3" fill="none"/><path d="M528.37 181.8H533.97M531.17 178.6V185" stroke="#00ffff" stroke-width="1.3" fill="none"/>
<polyline points="326.73,105.4 328.02,130 329.31,160.7 387.42,160.7 387.85,179.1 541.5,179.1" fill="none" stroke="#0000ff" stroke-width="1.5" stroke-linejoin="round"/>
<polygon points="326.73,101.6 328.93,105.4 326.73,109.2 324.53,105.4" fill="none" stroke="#0000ff" stroke-width="1.3"/><polygon points="337.49,156.9 339.69,160.7 337.49,164.5 335.29,160.7" fill="none" stroke="#0000ff" stroke-width="1.3"/><polygon points="348.25,156.9 350.45,160.7 348.25,164.5 346.05,160.7" fill="none" stroke="#0000ff" stroke-width="1.3"/><polygon points="359.01,156.9 361.21,160.7 359.01,164.5 356.81,160.7" fill="none" stroke="#0000ff" stroke-width="1.3"/><polygon points="369.77,156.9 371.97,160.7 369.77,164.5 367.57,160.7" fill="none" stroke="#0000ff" stroke-width="1.3"/><polygon points="380.53,156.9 382.73,160.7 380.53,164.5 378.33,160.7" fill="none" stroke="#0000ff" stroke-width="1.3"/><polygon points="391.29,175.3 393.49,179.1 391.29,182.9 389.09,179.1" fill="none" stroke="#0000ff" stroke-width="1.3"/><polygon points="402.05,175.3 404.25,179.1 402.05,182.9 399.85,179.1" fill="none" stroke="#0000ff" stroke-width="1.3"/><polygon points="412.81,175.3 415.01,179.1 412.81,182.9 410.61,179.1" fill="none" stroke="#0000ff" stroke-width="1.3"/><polygon points="423.57,175.3 425.77,179.1 423.57,182.9 421.37,179.1" fill="none" stroke="#0000ff" stroke-width="1.3"/><polygon points="434.33,175.3 436.53,179.1 434.33,182.9 432.13,179.1" fill="none" stroke="#0000ff" stroke-width="1.3"/><polygon points="445.09,175.3 447.29,179.1 445.09,182.9 442.89,179.1" fill="none" stroke="#0000ff" stroke-width="1.3"/><polygon points="455.85,175.3 458.05,179.1 455.85,182.9 453.65,179.1" fill="none" stroke="#0000ff" stroke-width="1.3"/><polygon points="466.61,175.3 468.81,179.1 466.61,182.9 464.41,179.1" fill="none" stroke="#0000ff" stroke-width="1.3"/><polygon points="477.37,175.3 479.57,179.1 477.37,182.9 475.17,179.1" fill="none" stroke="#0000ff" stroke-width="1.3"/><polygon points="488.13,175.3 490.33,179.1 488.13,182.9 485.93,179.1" fill="none" stroke="#0000ff" stroke-width="1.3"/><polygon points="498.89,175.3 501.09,179.1 498.89,182.9 496.69,179.1" fill="none" stroke="#0000ff" stroke-width="1.3"/><polygon points="509.65,175.3 511.85,179.1 509.65,182.9 507.45,179.1" fill="none" stroke="#0000ff" stroke-width="1.3"/><polygon points="520.41,175.3 522.61,179.1 520.41,182.9 518.21,179.1" fill="none" stroke="#0000ff" stroke-width="1.3"/><polygon points="531.17,175.3 533.37,179.1 531.17,182.9 528.97,179.1" fill="none" stroke="#0000ff" stroke-width="1.3"/>
<polyline points="326.73,100.8 328.02,130 330.17,165 331.9,181 333.62,183.2 541.5,183.3" fill="none" stroke="#00ff00" stroke-width="1.5" stroke-linejoin="round"/>
<ellipse cx="326.73" cy="100.8" rx="2.4" ry="2.6" fill="#00ff00"/><ellipse cx="337.49" cy="183.2" rx="2.4" ry="2.6" fill="#00ff00"/><ellipse cx="348.25" cy="183.21" rx="2.4" ry="2.6" fill="#00ff00"/><ellipse cx="359.01" cy="183.21" rx="2.4" ry="2.6" fill="#00ff00"/><ellipse cx="369.77" cy="183.22" rx="2.4" ry="2.6" fill="#00ff00"/><ellipse cx="380.53" cy="183.22" rx="2.4" ry="2.6" fill="#00ff00"/><ellipse cx="391.29" cy="183.23" rx="2.4" ry="2.6" fill="#00ff00"/><ellipse cx="402.05" cy="183.23" rx="2.4" ry="2.6" fill="#00ff00"/><ellipse cx="412.81" cy="183.24" rx="2.4" ry="2.6" fill="#00ff00"/><ellipse cx="423.57" cy="183.24" rx="2.4" ry="2.6" fill="#00ff00"/><ellipse cx="434.33" cy="183.25" rx="2.4" ry="2.6" fill="#00ff00"/><ellipse cx="445.09" cy="183.25" rx="2.4" ry="2.6" fill="#00ff00"/><ellipse cx="455.85" cy="183.26" rx="2.4" ry="2.6" fill="#00ff00"/><ellipse cx="466.61" cy="183.26" rx="2.4" ry="2.6" fill="#00ff00"/><ellipse cx="477.37" cy="183.27" rx="2.4" ry="2.6" fill="#00ff00"/><ellipse cx="488.13" cy="183.27" rx="2.4" ry="2.6" fill="#00ff00"/><ellipse cx="498.89" cy="183.28" rx="2.4" ry="2.6" fill="#00ff00"/><ellipse cx="509.65" cy="183.28" rx="2.4" ry="2.6" fill="#00ff00"/><ellipse cx="520.41" cy="183.29" rx="2.4" ry="2.6" fill="#00ff00"/><ellipse cx="531.17" cy="183.3" rx="2.4" ry="2.6" fill="#00ff00"/>
<polyline points="326.73,144.7 327.16,160 328.02,175 329.31,180.5 331.9,182.5 337.49,183.2 541.5,183.3" fill="none" stroke="#ff0000" stroke-width="1.5" stroke-linejoin="round"/>
<ellipse cx="326.73" cy="144.7" rx="2.3" ry="2.8" fill="none" stroke="#ff0000" stroke-width="1.3"/><ellipse cx="337.49" cy="183.2" rx="2.3" ry="2.8" fill="none" stroke="#ff0000" stroke-width="1.3"/><ellipse cx="348.25" cy="183.21" rx="2.3" ry="2.8" fill="none" stroke="#ff0000" stroke-width="1.3"/><ellipse cx="359.01" cy="183.21" rx="2.3" ry="2.8" fill="none" stroke="#ff0000" stroke-width="1.3"/><ellipse cx="369.77" cy="183.22" rx="2.3" ry="2.8" fill="none" stroke="#ff0000" stroke-width="1.3"/><ellipse cx="380.53" cy="183.22" rx="2.3" ry="2.8" fill="none" stroke="#ff0000" stroke-width="1.3"/><ellipse cx="391.29" cy="183.23" rx="2.3" ry="2.8" fill="none" stroke="#ff0000" stroke-width="1.3"/><ellipse cx="402.05" cy="183.23" rx="2.3" ry="2.8" fill="none" stroke="#ff0000" stroke-width="1.3"/><ellipse cx="412.81" cy="183.24" rx="2.3" ry="2.8" fill="none" stroke="#ff0000" stroke-width="1.3"/><ellipse cx="423.57" cy="183.24" rx="2.3" ry="2.8" fill="none" stroke="#ff0000" stroke-width="1.3"/><ellipse cx="434.33" cy="183.25" rx="2.3" ry="2.8" fill="none" stroke="#ff0000" stroke-width="1.3"/><ellipse cx="445.09" cy="183.25" rx="2.3" ry="2.8" fill="none" stroke="#ff0000" stroke-width="1.3"/><ellipse cx="455.85" cy="183.26" rx="2.3" ry="2.8" fill="none" stroke="#ff0000" stroke-width="1.3"/><ellipse cx="466.61" cy="183.26" rx="2.3" ry="2.8" fill="none" stroke="#ff0000" stroke-width="1.3"/><ellipse cx="477.37" cy="183.27" rx="2.3" ry="2.8" fill="none" stroke="#ff0000" stroke-width="1.3"/><ellipse cx="488.13" cy="183.27" rx="2.3" ry="2.8" fill="none" stroke="#ff0000" stroke-width="1.3"/><ellipse cx="498.89" cy="183.28" rx="2.3" ry="2.8" fill="none" stroke="#ff0000" stroke-width="1.3"/><ellipse cx="509.65" cy="183.28" rx="2.3" ry="2.8" fill="none" stroke="#ff0000" stroke-width="1.3"/><ellipse cx="520.41" cy="183.29" rx="2.3" ry="2.8" fill="none" stroke="#ff0000" stroke-width="1.3"/><ellipse cx="531.17" cy="183.29" rx="2.3" ry="2.8" fill="none" stroke="#ff0000" stroke-width="1.3"/>
<g font-family="'Liberation Sans', Arial, Helvetica, sans-serif" fill="#1a1a1a"><text transform="translate(432.7 11.2) scale(0.97 1)" font-size="10.3" text-anchor="middle">F3convergence curve</text></g>
<text x="433.9" y="206.2" text-anchor="middle" font-family="'Liberation Sans', Arial, Helvetica, sans-serif" font-size="10.1" fill="#1a1a1a">iterations</text>
<text transform="translate(307.3 99.2) rotate(-90)" text-anchor="middle" font-family="'Liberation Sans', Arial, Helvetica, sans-serif" font-size="9.9" fill="#262626">fitness</text>
<rect x="451.5" y="20.4" width="84.5" height="26" fill="#fff" stroke="#262626" stroke-width="0.8"/>
<g font-family="'Liberation Sans', Arial, Helvetica, sans-serif" fill="#111"><path d="M453.9 25.4H473.5" stroke="#ff00ff" stroke-width="1.5"/><polygon points="461.2,25.4 466.2,22.1 466.2,28.7" fill="none" stroke="#ff00ff" stroke-width="1.3"/><text transform="translate(475.1 27.7) scale(0.86 1)" font-size="6.8">mfoa</text><path d="M453.9 33.7H473.5" stroke="#000000" stroke-width="1.5" stroke-dasharray="3.2 1.3 0.8 1.3"/><polygon points="463.7,30.9 466.8,36.5 460.6,36.5" fill="none" stroke="#000000" stroke-width="1.3"/><text transform="translate(475.1 36) scale(0.86 1)" font-size="6.8">mpso</text><path d="M453.9 42H473.5" stroke="#00ffff" stroke-width="1.5"/><path d="M460.9 42H466.5M463.7 38.8V45.2" stroke="#00ffff" stroke-width="1.3" fill="none"/><text transform="translate(475.1 44.3) scale(0.86 1)" font-size="6.8">msca</text><path d="M494.5 25.4H513.5" stroke="#0000ff" stroke-width="1.5"/><polygon points="504,21.6 506.2,25.4 504,29.2 501.8,25.4" fill="none" stroke="#0000ff" stroke-width="1.3"/><text transform="translate(515.5 27.7) scale(0.86 1)" font-size="6.8">mswoa</text><path d="M494.5 33.7H513.5" stroke="#00ff00" stroke-width="1.5"/><ellipse cx="504" cy="33.7" rx="2.4" ry="2.6" fill="#00ff00"/><text transform="translate(515.5 36) scale(0.86 1)" font-size="6.8">woa</text><path d="M494.5 42H513.5" stroke="#ff0000" stroke-width="1.5"/><ellipse cx="504" cy="42" rx="2.3" ry="2.8" fill="none" stroke="#ff0000" stroke-width="1.3"/><text transform="translate(515.5 44.3) scale(0.86 1)" font-size="6.8">iwoa</text></g>
<text x="368.5" y="219.6" font-family="'Liberation Serif', 'Times New Roman', serif" font-size="11.0" fill="#111" textLength="121" lengthAdjust="spacingAndGlyphs">(<tspan font-weight="bold">b</tspan>) Convergence plot of F3</text>
<path d="M34.3 407V404.8M34.3 238.5V240.7M55.82 407V404.8M55.82 238.5V240.7M77.34 407V404.8M77.34 238.5V240.7M98.86 407V404.8M98.86 238.5V240.7M120.38 407V404.8M120.38 238.5V240.7M141.9 407V404.8M141.9 238.5V240.7M163.42 407V404.8M163.42 238.5V240.7M184.94 407V404.8M184.94 238.5V240.7M206.46 407V404.8M206.46 238.5V240.7M227.98 407V404.8M227.98 238.5V240.7M249.5 407V404.8M249.5 238.5V240.7M34.3 387.2H36.5M249.5 387.2H247.3M34.3 364.27H36.5M249.5 364.27H247.3M34.3 341.34H36.5M249.5 341.34H247.3M34.3 318.41H36.5M249.5 318.41H247.3M34.3 295.48H36.5M249.5 295.48H247.3M34.3 272.55H36.5M249.5 272.55H247.3M34.3 249.62H36.5M249.5 249.62H247.3M34.3 405.54H35.7M249.5 405.54H248.1M34.3 400.95H35.7M249.5 400.95H248.1M34.3 396.37H35.7M249.5 396.37H248.1M34.3 391.78H35.7M249.5 391.78H248.1M34.3 382.61H35.7M249.5 382.61H248.1M34.3 378.02H35.7M249.5 378.02H248.1M34.3 373.44H35.7M249.5 373.44H248.1M34.3 368.85H35.7M249.5 368.85H248.1M34.3 359.68H35.7M249.5 359.68H248.1M34.3 355.09H35.7M249.5 355.09H248.1M34.3 350.51H35.7M249.5 350.51H248.1M34.3 345.92H35.7M249.5 345.92H248.1M34.3 336.75H35.7M249.5 336.75H248.1M34.3 332.16H35.7M249.5 332.16H248.1M34.3 327.58H35.7M249.5 327.58H248.1M34.3 322.99H35.7M249.5 322.99H248.1M34.3 313.82H35.7M249.5 313.82H248.1M34.3 309.23H35.7M249.5 309.23H248.1M34.3 304.65H35.7M249.5 304.65H248.1M34.3 300.06H35.7M249.5 300.06H248.1M34.3 290.89H35.7M249.5 290.89H248.1M34.3 286.3H35.7M249.5 286.3H248.1M34.3 281.72H35.7M249.5 281.72H248.1M34.3 277.13H35.7M249.5 277.13H248.1M34.3 267.96H35.7M249.5 267.96H248.1M34.3 263.37H35.7M249.5 263.37H248.1M34.3 258.79H35.7M249.5 258.79H248.1M34.3 254.2H35.7M249.5 254.2H248.1M34.3 245.03H35.7M249.5 245.03H248.1M34.3 240.44H35.7M249.5 240.44H248.1" stroke="#262626" stroke-width="0.8" fill="none"/>
<rect x="34.3" y="238.5" width="215.2" height="168.5" fill="none" stroke="#262626" stroke-width="0.95"/>
<g font-family="'Liberation Sans', Arial, Helvetica, sans-serif" fill="#222"><text transform="translate(34.3 417.2) scale(0.93 1)" font-size="6.8" text-anchor="middle">0</text><text transform="translate(55.82 417.2) scale(0.93 1)" font-size="6.8" text-anchor="middle">50</text><text transform="translate(77.34 417.2) scale(0.93 1)" font-size="6.8" text-anchor="middle">100</text><text transform="translate(98.86 417.2) scale(0.93 1)" font-size="6.8" text-anchor="middle">150</text><text transform="translate(120.38 417.2) scale(0.93 1)" font-size="6.8" text-anchor="middle">200</text><text transform="translate(141.9 417.2) scale(0.93 1)" font-size="6.8" text-anchor="middle">250</text><text transform="translate(163.42 417.2) scale(0.93 1)" font-size="6.8" text-anchor="middle">300</text><text transform="translate(184.94 417.2) scale(0.93 1)" font-size="6.8" text-anchor="middle">350</text><text transform="translate(206.46 417.2) scale(0.93 1)" font-size="6.8" text-anchor="middle">400</text><text transform="translate(227.98 417.2) scale(0.93 1)" font-size="6.8" text-anchor="middle">450</text><text transform="translate(249.5 417.2) scale(0.93 1)" font-size="6.8" text-anchor="middle">500</text><text transform="translate(31.3 389.6) scale(0.93 1)" font-size="6.8" text-anchor="end">2250</text><text transform="translate(31.3 366.67) scale(0.93 1)" font-size="6.8" text-anchor="end">2300</text><text transform="translate(31.3 343.74) scale(0.93 1)" font-size="6.8" text-anchor="end">2350</text><text transform="translate(31.3 320.81) scale(0.93 1)" font-size="6.8" text-anchor="end">2400</text><text transform="translate(31.3 297.88) scale(0.93 1)" font-size="6.8" text-anchor="end">2450</text><text transform="translate(31.3 274.95) scale(0.93 1)" font-size="6.8" text-anchor="end">2500</text><text transform="translate(31.3 252.02) scale(0.93 1)" font-size="6.8" text-anchor="end">2550</text></g>
<polyline points="34.73,238.5 35.16,300 36.45,370 36.88,376 39.03,380 43.34,387 50.22,395.5 60.55,396.6 120.81,398.2 249.5,398.9" fill="none" stroke="#ff00ff" stroke-width="1.5" stroke-linejoin="round"/>
<polygon points="32.23,238.5 37.23,235.2 37.23,241.8" fill="none" stroke="#ff00ff" stroke-width="1.3"/><polygon points="42.99,389.66 47.99,386.36 47.99,392.96" fill="none" stroke="#ff00ff" stroke-width="1.3"/><polygon points="53.75,396.14 58.75,392.84 58.75,399.44" fill="none" stroke="#ff00ff" stroke-width="1.3"/><polygon points="64.51,396.77 69.51,393.47 69.51,400.07" fill="none" stroke="#ff00ff" stroke-width="1.3"/><polygon points="75.27,397.06 80.27,393.76 80.27,400.36" fill="none" stroke="#ff00ff" stroke-width="1.3"/><polygon points="86.03,397.34 91.03,394.04 91.03,400.64" fill="none" stroke="#ff00ff" stroke-width="1.3"/><polygon points="96.79,397.63 101.79,394.33 101.79,400.93" fill="none" stroke="#ff00ff" stroke-width="1.3"/><polygon points="107.55,397.91 112.55,394.61 112.55,401.21" fill="none" stroke="#ff00ff" stroke-width="1.3"/><polygon points="118.31,398.2 123.31,394.9 123.31,401.5" fill="none" stroke="#ff00ff" stroke-width="1.3"/><polygon points="129.07,398.26 134.07,394.96 134.07,401.56" fill="none" stroke="#ff00ff" stroke-width="1.3"/><polygon points="139.83,398.32 144.83,395.02 144.83,401.62" fill="none" stroke="#ff00ff" stroke-width="1.3"/><polygon points="150.59,398.38 155.59,395.08 155.59,401.68" fill="none" stroke="#ff00ff" stroke-width="1.3"/><polygon points="161.35,398.43 166.35,395.13 166.35,401.73" fill="none" stroke="#ff00ff" stroke-width="1.3"/><polygon points="172.11,398.49 177.11,395.19 177.11,401.79" fill="none" stroke="#ff00ff" stroke-width="1.3"/><polygon points="182.87,398.55 187.87,395.25 187.87,401.85" fill="none" stroke="#ff00ff" stroke-width="1.3"/><polygon points="193.63,398.61 198.63,395.31 198.63,401.91" fill="none" stroke="#ff00ff" stroke-width="1.3"/><polygon points="204.39,398.67 209.39,395.37 209.39,401.97" fill="none" stroke="#ff00ff" stroke-width="1.3"/><polygon points="215.15,398.73 220.15,395.43 220.15,402.03" fill="none" stroke="#ff00ff" stroke-width="1.3"/><polygon points="225.91,398.79 230.91,395.49 230.91,402.09" fill="none" stroke="#ff00ff" stroke-width="1.3"/><polygon points="236.67,398.84 241.67,395.54 241.67,402.14" fill="none" stroke="#ff00ff" stroke-width="1.3"/>
<polyline points="34.73,316.5 36.02,319 37.31,322 57.54,322 57.97,349.4 59.69,352 60.12,375.8 67.87,376.2 73.47,390.4 88.1,390.6 94.99,394.2 249.5,395.2" fill="none" stroke="#000000" stroke-width="1.5" stroke-linejoin="round" stroke-dasharray="3.2 1.3 0.8 1.3"/>
<polygon points="34.73,313.7 37.83,319.3 31.63,319.3" fill="none" stroke="#000000" stroke-width="1.3"/><polygon points="45.49,319.2 48.59,324.8 42.39,324.8" fill="none" stroke="#000000" stroke-width="1.3"/><polygon points="56.25,319.2 59.35,324.8 53.15,324.8" fill="none" stroke="#000000" stroke-width="1.3"/><polygon points="67.01,373.36 70.11,378.96 63.91,378.96" fill="none" stroke="#000000" stroke-width="1.3"/><polygon points="77.77,387.66 80.87,393.26 74.67,393.26" fill="none" stroke="#000000" stroke-width="1.3"/><polygon points="88.53,388.03 91.63,393.63 85.43,393.63" fill="none" stroke="#000000" stroke-width="1.3"/><polygon points="99.29,391.43 102.39,397.03 96.19,397.03" fill="none" stroke="#000000" stroke-width="1.3"/><polygon points="110.05,391.5 113.15,397.1 106.95,397.1" fill="none" stroke="#000000" stroke-width="1.3"/><polygon points="120.81,391.57 123.91,397.17 117.71,397.17" fill="none" stroke="#000000" stroke-width="1.3"/><polygon points="131.57,391.64 134.67,397.24 128.47,397.24" fill="none" stroke="#000000" stroke-width="1.3"/><polygon points="142.33,391.71 145.43,397.31 139.23,397.31" fill="none" stroke="#000000" stroke-width="1.3"/><polygon points="153.09,391.78 156.19,397.38 149.99,397.38" fill="none" stroke="#000000" stroke-width="1.3"/><polygon points="163.85,391.85 166.95,397.45 160.75,397.45" fill="none" stroke="#000000" stroke-width="1.3"/><polygon points="174.61,391.92 177.71,397.52 171.51,397.52" fill="none" stroke="#000000" stroke-width="1.3"/><polygon points="185.37,391.98 188.47,397.58 182.27,397.58" fill="none" stroke="#000000" stroke-width="1.3"/><polygon points="196.13,392.05 199.23,397.65 193.03,397.65" fill="none" stroke="#000000" stroke-width="1.3"/><polygon points="206.89,392.12 209.99,397.72 203.79,397.72" fill="none" stroke="#000000" stroke-width="1.3"/><polygon points="217.65,392.19 220.75,397.79 214.55,397.79" fill="none" stroke="#000000" stroke-width="1.3"/><polygon points="228.41,392.26 231.51,397.86 225.31,397.86" fill="none" stroke="#000000" stroke-width="1.3"/><polygon points="239.17,392.33 242.27,397.93 236.07,397.93" fill="none" stroke="#000000" stroke-width="1.3"/>
<polyline points="34.73,366 36.02,367 36.45,374.4 58.83,374.4 59.26,381.9 77.77,381.9 78.2,392.8 163.85,393.6 249.5,394.3" fill="none" stroke="#00ffff" stroke-width="1.5" stroke-linejoin="round"/>
<path d="M31.93 366H37.53M34.73 362.8V369.2" stroke="#00ffff" stroke-width="1.3" fill="none"/><path d="M42.69 374.4H48.29M45.49 371.2V377.6" stroke="#00ffff" stroke-width="1.3" fill="none"/><path d="M53.45 374.4H59.05M56.25 371.2V377.6" stroke="#00ffff" stroke-width="1.3" fill="none"/><path d="M64.21 381.9H69.81M67.01 378.7V385.1" stroke="#00ffff" stroke-width="1.3" fill="none"/><path d="M74.97 381.9H80.57M77.77 378.7V385.1" stroke="#00ffff" stroke-width="1.3" fill="none"/><path d="M85.73 392.9H91.33M88.53 389.7V396.1" stroke="#00ffff" stroke-width="1.3" fill="none"/><path d="M96.49 393H102.09M99.29 389.8V396.2" stroke="#00ffff" stroke-width="1.3" fill="none"/><path d="M107.25 393.1H112.85M110.05 389.9V396.3" stroke="#00ffff" stroke-width="1.3" fill="none"/><path d="M118.01 393.2H123.61M120.81 390V396.4" stroke="#00ffff" stroke-width="1.3" fill="none"/><path d="M128.77 393.3H134.37M131.57 390.1V396.5" stroke="#00ffff" stroke-width="1.3" fill="none"/><path d="M139.53 393.4H145.13M142.33 390.2V396.6" stroke="#00ffff" stroke-width="1.3" fill="none"/><path d="M150.29 393.5H155.89M153.09 390.3V396.7" stroke="#00ffff" stroke-width="1.3" fill="none"/><path d="M161.05 393.6H166.65M163.85 390.4V396.8" stroke="#00ffff" stroke-width="1.3" fill="none"/><path d="M171.81 393.69H177.41M174.61 390.49V396.89" stroke="#00ffff" stroke-width="1.3" fill="none"/><path d="M182.57 393.78H188.17M185.37 390.58V396.98" stroke="#00ffff" stroke-width="1.3" fill="none"/><path d="M193.33 393.86H198.93M196.13 390.66V397.06" stroke="#00ffff" stroke-width="1.3" fill="none"/><path d="M204.09 393.95H209.69M206.89 390.75V397.15" stroke="#00ffff" stroke-width="1.3" fill="none"/><path d="M214.85 394.04H220.45M217.65 390.84V397.24" stroke="#00ffff" stroke-width="1.3" fill="none"/><path d="M225.61 394.13H231.21M228.41 390.93V397.33" stroke="#00ffff" stroke-width="1.3" fill="none"/><path d="M236.37 394.22H241.97M239.17 391.02V397.42" stroke="#00ffff" stroke-width="1.3" fill="none"/>
<polyline points="34.73,272.3 35.59,290 36.45,305 36.88,320 37.31,323.4 44.2,323.4 44.63,381 48.5,383.6 56.25,385 83.37,385.2 84.66,388.3 162.99,388.4 164.28,391.8 249.5,391.9" fill="none" stroke="#0000ff" stroke-width="1.5" stroke-linejoin="round"/>
<polygon points="34.73,268.5 36.93,272.3 34.73,276.1 32.53,272.3" fill="none" stroke="#0000ff" stroke-width="1.3"/><polygon points="45.49,377.78 47.69,381.58 45.49,385.38 43.29,381.58" fill="none" stroke="#0000ff" stroke-width="1.3"/><polygon points="56.25,381.2 58.45,385 56.25,388.8 54.05,385" fill="none" stroke="#0000ff" stroke-width="1.3"/><polygon points="67.01,381.28 69.21,385.08 67.01,388.88 64.81,385.08" fill="none" stroke="#0000ff" stroke-width="1.3"/><polygon points="77.77,381.36 79.97,385.16 77.77,388.96 75.57,385.16" fill="none" stroke="#0000ff" stroke-width="1.3"/><polygon points="88.53,384.5 90.73,388.3 88.53,392.1 86.33,388.3" fill="none" stroke="#0000ff" stroke-width="1.3"/><polygon points="99.29,384.52 101.49,388.32 99.29,392.12 97.09,388.32" fill="none" stroke="#0000ff" stroke-width="1.3"/><polygon points="110.05,384.53 112.25,388.33 110.05,392.13 107.85,388.33" fill="none" stroke="#0000ff" stroke-width="1.3"/><polygon points="120.81,384.55 123.01,388.35 120.81,392.15 118.61,388.35" fill="none" stroke="#0000ff" stroke-width="1.3"/><polygon points="131.57,384.56 133.77,388.36 131.57,392.16 129.37,388.36" fill="none" stroke="#0000ff" stroke-width="1.3"/><polygon points="142.33,384.57 144.53,388.37 142.33,392.17 140.13,388.37" fill="none" stroke="#0000ff" stroke-width="1.3"/><polygon points="153.09,384.59 155.29,388.39 153.09,392.19 150.89,388.39" fill="none" stroke="#0000ff" stroke-width="1.3"/><polygon points="163.85,386.87 166.05,390.67 163.85,394.47 161.65,390.67" fill="none" stroke="#0000ff" stroke-width="1.3"/><polygon points="174.61,388.01 176.81,391.81 174.61,395.61 172.41,391.81" fill="none" stroke="#0000ff" stroke-width="1.3"/><polygon points="185.37,388.02 187.57,391.82 185.37,395.62 183.17,391.82" fill="none" stroke="#0000ff" stroke-width="1.3"/><polygon points="196.13,388.04 198.33,391.84 196.13,395.64 193.93,391.84" fill="none" stroke="#0000ff" stroke-width="1.3"/><polygon points="206.89,388.05 209.09,391.85 206.89,395.65 204.69,391.85" fill="none" stroke="#0000ff" stroke-width="1.3"/><polygon points="217.65,388.06 219.85,391.86 217.65,395.66 215.45,391.86" fill="none" stroke="#0000ff" stroke-width="1.3"/><polygon points="228.41,388.08 230.61,391.88 228.41,395.68 226.21,391.88" fill="none" stroke="#0000ff" stroke-width="1.3"/><polygon points="239.17,388.09 241.37,391.89 239.17,395.69 236.97,391.89" fill="none" stroke="#0000ff" stroke-width="1.3"/>
<polyline points="34.73,300 35.16,306 36.45,322 38.39,366 38.82,382.2 40.76,383.8 45.49,385.5 56.25,388 77.77,388.8 249.5,389.7" fill="none" stroke="#00ff00" stroke-width="1.5" stroke-linejoin="round"/>
<ellipse cx="34.73" cy="300" rx="2.4" ry="2.6" fill="#00ff00"/><ellipse cx="45.49" cy="385.5" rx="2.4" ry="2.6" fill="#00ff00"/><ellipse cx="56.25" cy="388" rx="2.4" ry="2.6" fill="#00ff00"/><ellipse cx="67.01" cy="388.4" rx="2.4" ry="2.6" fill="#00ff00"/><ellipse cx="77.77" cy="388.8" rx="2.4" ry="2.6" fill="#00ff00"/><ellipse cx="88.53" cy="388.86" rx="2.4" ry="2.6" fill="#00ff00"/><ellipse cx="99.29" cy="388.91" rx="2.4" ry="2.6" fill="#00ff00"/><ellipse cx="110.05" cy="388.97" rx="2.4" ry="2.6" fill="#00ff00"/><ellipse cx="120.81" cy="389.03" rx="2.4" ry="2.6" fill="#00ff00"/><ellipse cx="131.57" cy="389.08" rx="2.4" ry="2.6" fill="#00ff00"/><ellipse cx="142.33" cy="389.14" rx="2.4" ry="2.6" fill="#00ff00"/><ellipse cx="153.09" cy="389.19" rx="2.4" ry="2.6" fill="#00ff00"/><ellipse cx="163.85" cy="389.25" rx="2.4" ry="2.6" fill="#00ff00"/><ellipse cx="174.61" cy="389.31" rx="2.4" ry="2.6" fill="#00ff00"/><ellipse cx="185.37" cy="389.36" rx="2.4" ry="2.6" fill="#00ff00"/><ellipse cx="196.13" cy="389.42" rx="2.4" ry="2.6" fill="#00ff00"/><ellipse cx="206.89" cy="389.48" rx="2.4" ry="2.6" fill="#00ff00"/><ellipse cx="217.65" cy="389.53" rx="2.4" ry="2.6" fill="#00ff00"/><ellipse cx="228.41" cy="389.59" rx="2.4" ry="2.6" fill="#00ff00"/><ellipse cx="239.17" cy="389.65" rx="2.4" ry="2.6" fill="#00ff00"/>
<polyline points="34.73,258.5 35.16,300 35.59,360 36.02,392.3 43.34,393.9 45.49,393.8 50.22,397 54.96,398.6 77.77,398.8 121.67,399.3 132,402.2 142.33,406.3 146.63,406.8 249.5,406.8" fill="none" stroke="#ff0000" stroke-width="1.5" stroke-linejoin="round"/>
<ellipse cx="34.73" cy="258.5" rx="2.3" ry="2.8" fill="none" stroke="#ff0000" stroke-width="1.3"/><ellipse cx="45.49" cy="393.8" rx="2.3" ry="2.8" fill="none" stroke="#ff0000" stroke-width="1.3"/><ellipse cx="56.25" cy="398.61" rx="2.3" ry="2.8" fill="none" stroke="#ff0000" stroke-width="1.3"/><ellipse cx="67.01" cy="398.71" rx="2.3" ry="2.8" fill="none" stroke="#ff0000" stroke-width="1.3"/><ellipse cx="77.77" cy="398.8" rx="2.3" ry="2.8" fill="none" stroke="#ff0000" stroke-width="1.3"/><ellipse cx="88.53" cy="398.92" rx="2.3" ry="2.8" fill="none" stroke="#ff0000" stroke-width="1.3"/><ellipse cx="99.29" cy="399.05" rx="2.3" ry="2.8" fill="none" stroke="#ff0000" stroke-width="1.3"/><ellipse cx="110.05" cy="399.17" rx="2.3" ry="2.8" fill="none" stroke="#ff0000" stroke-width="1.3"/><ellipse cx="120.81" cy="399.29" rx="2.3" ry="2.8" fill="none" stroke="#ff0000" stroke-width="1.3"/><ellipse cx="131.57" cy="402.08" rx="2.3" ry="2.8" fill="none" stroke="#ff0000" stroke-width="1.3"/><ellipse cx="142.33" cy="406.3" rx="2.3" ry="2.8" fill="none" stroke="#ff0000" stroke-width="1.3"/><ellipse cx="153.09" cy="406.8" rx="2.3" ry="2.8" fill="none" stroke="#ff0000" stroke-width="1.3"/><ellipse cx="163.85" cy="406.8" rx="2.3" ry="2.8" fill="none" stroke="#ff0000" stroke-width="1.3"/><ellipse cx="174.61" cy="406.8" rx="2.3" ry="2.8" fill="none" stroke="#ff0000" stroke-width="1.3"/><ellipse cx="185.37" cy="406.8" rx="2.3" ry="2.8" fill="none" stroke="#ff0000" stroke-width="1.3"/><ellipse cx="196.13" cy="406.8" rx="2.3" ry="2.8" fill="none" stroke="#ff0000" stroke-width="1.3"/><ellipse cx="206.89" cy="406.8" rx="2.3" ry="2.8" fill="none" stroke="#ff0000" stroke-width="1.3"/><ellipse cx="217.65" cy="406.8" rx="2.3" ry="2.8" fill="none" stroke="#ff0000" stroke-width="1.3"/><ellipse cx="228.41" cy="406.8" rx="2.3" ry="2.8" fill="none" stroke="#ff0000" stroke-width="1.3"/><ellipse cx="239.17" cy="406.8" rx="2.3" ry="2.8" fill="none" stroke="#ff0000" stroke-width="1.3"/>
<g font-family="'Liberation Sans', Arial, Helvetica, sans-serif" fill="#1a1a1a"><text transform="translate(140.7 234.6) scale(0.97 1)" font-size="10.3" text-anchor="middle">F8convergence curve</text></g>
<text x="141.9" y="429.9" text-anchor="middle" font-family="'Liberation Sans', Arial, Helvetica, sans-serif" font-size="10.1" fill="#1a1a1a">iterations</text>
<text transform="translate(12.7 322.75) rotate(-90)" text-anchor="middle" font-family="'Liberation Sans', Arial, Helvetica, sans-serif" font-size="9.9" fill="#262626">fitness</text>
<rect x="159.5" y="243.8" width="84.5" height="26" fill="#fff" stroke="#262626" stroke-width="0.8"/>
<g font-family="'Liberation Sans', Arial, Helvetica, sans-serif" fill="#111"><path d="M161.9 248.8H181.5" stroke="#ff00ff" stroke-width="1.5"/><polygon points="169.2,248.8 174.2,245.5 174.2,252.1" fill="none" stroke="#ff00ff" stroke-width="1.3"/><text transform="translate(183.1 251.1) scale(0.86 1)" font-size="6.8">mfoa</text><path d="M161.9 257.1H181.5" stroke="#000000" stroke-width="1.5" stroke-dasharray="3.2 1.3 0.8 1.3"/><polygon points="171.7,254.3 174.8,259.9 168.6,259.9" fill="none" stroke="#000000" stroke-width="1.3"/><text transform="translate(183.1 259.4) scale(0.86 1)" font-size="6.8">mpso</text><path d="M161.9 265.4H181.5" stroke="#00ffff" stroke-width="1.5"/><path d="M168.9 265.4H174.5M171.7 262.2V268.6" stroke="#00ffff" stroke-width="1.3" fill="none"/><text transform="translate(183.1 267.7) scale(0.86 1)" font-size="6.8">msca</text><path d="M202.5 248.8H221.5" stroke="#0000ff" stroke-width="1.5"/><polygon points="212,245 214.2,248.8 212,252.6 209.8,248.8" fill="none" stroke="#0000ff" stroke-width="1.3"/><text transform="translate(223.5 251.1) scale(0.86 1)" font-size="6.8">mswoa</text><path d="M202.5 257.1H221.5" stroke="#00ff00" stroke-width="1.5"/><ellipse cx="212" cy="257.1" rx="2.4" ry="2.6" fill="#00ff00"/><text transform="translate(223.5 259.4) scale(0.86 1)" font-size="6.8">woa</text><path d="M202.5 265.4H221.5" stroke="#ff0000" stroke-width="1.5"/><ellipse cx="212" cy="265.4" rx="2.3" ry="2.8" fill="none" stroke="#ff0000" stroke-width="1.3"/><text transform="translate(223.5 267.7) scale(0.86 1)" font-size="6.8">iwoa</text></g>
<text x="78" y="443.4" font-family="'Liberation Serif', 'Times New Roman', serif" font-size="11.0" fill="#111" textLength="118.7" lengthAdjust="spacingAndGlyphs">(<tspan font-weight="bold">c</tspan>) Convergence plot of F8</text>
<path d="M325.6 407.2V405M325.6 238.5V240.7M347.17 407.2V405M347.17 238.5V240.7M368.74 407.2V405M368.74 238.5V240.7M390.31 407.2V405M390.31 238.5V240.7M411.88 407.2V405M411.88 238.5V240.7M433.45 407.2V405M433.45 238.5V240.7M455.02 407.2V405M455.02 238.5V240.7M476.59 407.2V405M476.59 238.5V240.7M498.16 407.2V405M498.16 238.5V240.7M519.73 407.2V405M519.73 238.5V240.7M541.3 407.2V405M541.3 238.5V240.7M325.6 391.52H327.8M541.3 391.52H539.1M325.6 374.19H327.8M541.3 374.19H539.1M325.6 356.86H327.8M541.3 356.86H539.1M325.6 339.53H327.8M541.3 339.53H539.1M325.6 322.2H327.8M541.3 322.2H539.1M325.6 304.87H327.8M541.3 304.87H539.1M325.6 287.54H327.8M541.3 287.54H539.1M325.6 270.21H327.8M541.3 270.21H539.1M325.6 252.88H327.8M541.3 252.88H539.1M325.6 405.38H327M541.3 405.38H539.9M325.6 401.92H327M541.3 401.92H539.9M325.6 398.45H327M541.3 398.45H539.9M325.6 394.99H327M541.3 394.99H539.9M325.6 388.05H327M541.3 388.05H539.9M325.6 384.59H327M541.3 384.59H539.9M325.6 381.12H327M541.3 381.12H539.9M325.6 377.66H327M541.3 377.66H539.9M325.6 370.72H327M541.3 370.72H539.9M325.6 367.26H327M541.3 367.26H539.9M325.6 363.79H327M541.3 363.79H539.9M325.6 360.33H327M541.3 360.33H539.9M325.6 353.39H327M541.3 353.39H539.9M325.6 349.93H327M541.3 349.93H539.9M325.6 346.46H327M541.3 346.46H539.9M325.6 343H327M541.3 343H539.9M325.6 336.06H327M541.3 336.06H539.9M325.6 332.6H327M541.3 332.6H539.9M325.6 329.13H327M541.3 329.13H539.9M325.6 325.67H327M541.3 325.67H539.9M325.6 318.73H327M541.3 318.73H539.9M325.6 315.27H327M541.3 315.27H539.9M325.6 311.8H327M541.3 311.8H539.9M325.6 308.34H327M541.3 308.34H539.9M325.6 301.4H327M541.3 301.4H539.9M325.6 297.94H327M541.3 297.94H539.9M325.6 294.47H327M541.3 294.47H539.9M325.6 291.01H327M541.3 291.01H539.9M325.6 284.07H327M541.3 284.07H539.9M325.6 280.61H327M541.3 280.61H539.9M325.6 277.14H327M541.3 277.14H539.9M325.6 273.68H327M541.3 273.68H539.9M325.6 266.74H327M541.3 266.74H539.9M325.6 263.28H327M541.3 263.28H539.9M325.6 259.81H327M541.3 259.81H539.9M325.6 256.35H327M541.3 256.35H539.9M325.6 249.41H327M541.3 249.41H539.9M325.6 245.95H327M541.3 245.95H539.9M325.6 242.48H327M541.3 242.48H539.9M325.6 239.02H327M541.3 239.02H539.9" stroke="#262626" stroke-width="0.8" fill="none"/>
<rect x="325.6" y="238.5" width="215.7" height="168.7" fill="none" stroke="#262626" stroke-width="0.95"/>
<g font-family="'Liberation Sans', Arial, Helvetica, sans-serif" fill="#222"><text transform="translate(325.6 417.4) scale(0.93 1)" font-size="6.8" text-anchor="middle">0</text><text transform="translate(347.17 417.4) scale(0.93 1)" font-size="6.8" text-anchor="middle">50</text><text transform="translate(368.74 417.4) scale(0.93 1)" font-size="6.8" text-anchor="middle">100</text><text transform="translate(390.31 417.4) scale(0.93 1)" font-size="6.8" text-anchor="middle">150</text><text transform="translate(411.88 417.4) scale(0.93 1)" font-size="6.8" text-anchor="middle">200</text><text transform="translate(433.45 417.4) scale(0.93 1)" font-size="6.8" text-anchor="middle">250</text><text transform="translate(455.02 417.4) scale(0.93 1)" font-size="6.8" text-anchor="middle">300</text><text transform="translate(476.59 417.4) scale(0.93 1)" font-size="6.8" text-anchor="middle">350</text><text transform="translate(498.16 417.4) scale(0.93 1)" font-size="6.8" text-anchor="middle">400</text><text transform="translate(519.73 417.4) scale(0.93 1)" font-size="6.8" text-anchor="middle">450</text><text transform="translate(541.3 417.4) scale(0.93 1)" font-size="6.8" text-anchor="middle">500</text><text transform="translate(322.6 393.92) scale(0.93 1)" font-size="6.8" text-anchor="end">2900</text><text transform="translate(322.6 376.59) scale(0.93 1)" font-size="6.8" text-anchor="end">2950</text><text transform="translate(322.6 359.26) scale(0.93 1)" font-size="6.8" text-anchor="end">3000</text><text transform="translate(322.6 341.93) scale(0.93 1)" font-size="6.8" text-anchor="end">3050</text><text transform="translate(322.6 324.6) scale(0.93 1)" font-size="6.8" text-anchor="end">3100</text><text transform="translate(322.6 307.27) scale(0.93 1)" font-size="6.8" text-anchor="end">3150</text><text transform="translate(322.6 289.94) scale(0.93 1)" font-size="6.8" text-anchor="end">3200</text><text transform="translate(322.6 272.61) scale(0.93 1)" font-size="6.8" text-anchor="end">3250</text><text transform="translate(322.6 255.28) scale(0.93 1)" font-size="6.8" text-anchor="end">3300</text></g>
<polyline points="326.03,246.1 326.46,272 328.62,290 330.56,304.5 332.76,314.7 334.23,323.5 336.82,329 341.56,333.6 344.15,339.5 347.6,351.2 353.21,360.3 357.09,368 358.39,370.4 365.72,374.3 373.49,375.9 541.3,375.9" fill="none" stroke="#ff00ff" stroke-width="1.5" stroke-linejoin="round"/>
<polygon points="323.53,246.1 328.53,242.8 328.53,249.4" fill="none" stroke="#ff00ff" stroke-width="1.3"/><polygon points="334.32,329 339.32,325.7 339.32,332.3" fill="none" stroke="#ff00ff" stroke-width="1.3"/><polygon points="345.1,351.2 350.1,347.9 350.1,354.5" fill="none" stroke="#ff00ff" stroke-width="1.3"/><polygon points="355.89,370.4 360.89,367.1 360.89,373.7" fill="none" stroke="#ff00ff" stroke-width="1.3"/><polygon points="366.67,375.01 371.67,371.71 371.67,378.31" fill="none" stroke="#ff00ff" stroke-width="1.3"/><polygon points="377.46,375.9 382.46,372.6 382.46,379.2" fill="none" stroke="#ff00ff" stroke-width="1.3"/><polygon points="388.24,375.9 393.24,372.6 393.24,379.2" fill="none" stroke="#ff00ff" stroke-width="1.3"/><polygon points="399.03,375.9 404.03,372.6 404.03,379.2" fill="none" stroke="#ff00ff" stroke-width="1.3"/><polygon points="409.81,375.9 414.81,372.6 414.81,379.2" fill="none" stroke="#ff00ff" stroke-width="1.3"/><polygon points="420.6,375.9 425.6,372.6 425.6,379.2" fill="none" stroke="#ff00ff" stroke-width="1.3"/><polygon points="431.38,375.9 436.38,372.6 436.38,379.2" fill="none" stroke="#ff00ff" stroke-width="1.3"/><polygon points="442.17,375.9 447.17,372.6 447.17,379.2" fill="none" stroke="#ff00ff" stroke-width="1.3"/><polygon points="452.95,375.9 457.95,372.6 457.95,379.2" fill="none" stroke="#ff00ff" stroke-width="1.3"/><polygon points="463.74,375.9 468.74,372.6 468.74,379.2" fill="none" stroke="#ff00ff" stroke-width="1.3"/><polygon points="474.52,375.9 479.52,372.6 479.52,379.2" fill="none" stroke="#ff00ff" stroke-width="1.3"/><polygon points="485.31,375.9 490.31,372.6 490.31,379.2" fill="none" stroke="#ff00ff" stroke-width="1.3"/><polygon points="496.09,375.9 501.09,372.6 501.09,379.2" fill="none" stroke="#ff00ff" stroke-width="1.3"/><polygon points="506.88,375.9 511.88,372.6 511.88,379.2" fill="none" stroke="#ff00ff" stroke-width="1.3"/><polygon points="517.66,375.9 522.66,372.6 522.66,379.2" fill="none" stroke="#ff00ff" stroke-width="1.3"/><polygon points="528.45,375.9 533.45,372.6 533.45,379.2" fill="none" stroke="#ff00ff" stroke-width="1.3"/>
<polyline points="326.03,391.2 327.33,396.5 541.3,396.7" fill="none" stroke="#000000" stroke-width="1.5" stroke-linejoin="round" stroke-dasharray="3.2 1.3 0.8 1.3"/>
<polygon points="326.03,388.4 329.13,394 322.93,394" fill="none" stroke="#000000" stroke-width="1.3"/><polygon points="336.82,393.71 339.92,399.31 333.72,399.31" fill="none" stroke="#000000" stroke-width="1.3"/><polygon points="347.6,393.72 350.7,399.32 344.5,399.32" fill="none" stroke="#000000" stroke-width="1.3"/><polygon points="358.39,393.73 361.49,399.33 355.29,399.33" fill="none" stroke="#000000" stroke-width="1.3"/><polygon points="369.17,393.74 372.27,399.34 366.07,399.34" fill="none" stroke="#000000" stroke-width="1.3"/><polygon points="379.96,393.75 383.06,399.35 376.86,399.35" fill="none" stroke="#000000" stroke-width="1.3"/><polygon points="390.74,393.76 393.84,399.36 387.64,399.36" fill="none" stroke="#000000" stroke-width="1.3"/><polygon points="401.53,393.77 404.63,399.37 398.43,399.37" fill="none" stroke="#000000" stroke-width="1.3"/><polygon points="412.31,393.78 415.41,399.38 409.21,399.38" fill="none" stroke="#000000" stroke-width="1.3"/><polygon points="423.1,393.79 426.2,399.39 420,399.39" fill="none" stroke="#000000" stroke-width="1.3"/><polygon points="433.88,393.8 436.98,399.4 430.78,399.4" fill="none" stroke="#000000" stroke-width="1.3"/><polygon points="444.67,393.81 447.77,399.41 441.57,399.41" fill="none" stroke="#000000" stroke-width="1.3"/><polygon points="455.45,393.82 458.55,399.42 452.35,399.42" fill="none" stroke="#000000" stroke-width="1.3"/><polygon points="466.24,393.83 469.34,399.43 463.14,399.43" fill="none" stroke="#000000" stroke-width="1.3"/><polygon points="477.02,393.84 480.12,399.44 473.92,399.44" fill="none" stroke="#000000" stroke-width="1.3"/><polygon points="487.81,393.85 490.91,399.45 484.71,399.45" fill="none" stroke="#000000" stroke-width="1.3"/><polygon points="498.59,393.86 501.69,399.46 495.49,399.46" fill="none" stroke="#000000" stroke-width="1.3"/><polygon points="509.38,393.87 512.48,399.47 506.28,399.47" fill="none" stroke="#000000" stroke-width="1.3"/><polygon points="520.16,393.88 523.26,399.48 517.06,399.48" fill="none" stroke="#000000" stroke-width="1.3"/><polygon points="530.95,393.89 534.05,399.49 527.85,399.49" fill="none" stroke="#000000" stroke-width="1.3"/>
<polyline points="326.03,320.8 326.46,340 328.62,400 329.48,402.5 541.3,403.2" fill="none" stroke="#00ffff" stroke-width="1.5" stroke-linejoin="round"/>
<path d="M323.23 320.8H328.83M326.03 317.6V324" stroke="#00ffff" stroke-width="1.3" fill="none"/><path d="M334.02 402.52H339.62M336.82 399.32V405.72" stroke="#00ffff" stroke-width="1.3" fill="none"/><path d="M344.8 402.56H350.4M347.6 399.36V405.76" stroke="#00ffff" stroke-width="1.3" fill="none"/><path d="M355.59 402.6H361.19M358.39 399.4V405.8" stroke="#00ffff" stroke-width="1.3" fill="none"/><path d="M366.37 402.63H371.97M369.17 399.43V405.83" stroke="#00ffff" stroke-width="1.3" fill="none"/><path d="M377.16 402.67H382.76M379.96 399.47V405.87" stroke="#00ffff" stroke-width="1.3" fill="none"/><path d="M387.94 402.7H393.54M390.74 399.5V405.9" stroke="#00ffff" stroke-width="1.3" fill="none"/><path d="M398.73 402.74H404.33M401.53 399.54V405.94" stroke="#00ffff" stroke-width="1.3" fill="none"/><path d="M409.51 402.77H415.11M412.31 399.57V405.97" stroke="#00ffff" stroke-width="1.3" fill="none"/><path d="M420.3 402.81H425.9M423.1 399.61V406.01" stroke="#00ffff" stroke-width="1.3" fill="none"/><path d="M431.08 402.85H436.68M433.88 399.65V406.05" stroke="#00ffff" stroke-width="1.3" fill="none"/><path d="M441.87 402.88H447.47M444.67 399.68V406.08" stroke="#00ffff" stroke-width="1.3" fill="none"/><path d="M452.65 402.92H458.25M455.45 399.72V406.12" stroke="#00ffff" stroke-width="1.3" fill="none"/><path d="M463.44 402.95H469.04M466.24 399.75V406.15" stroke="#00ffff" stroke-width="1.3" fill="none"/><path d="M474.22 402.99H479.82M477.02 399.79V406.19" stroke="#00ffff" stroke-width="1.3" fill="none"/><path d="M485.01 403.02H490.61M487.81 399.82V406.22" stroke="#00ffff" stroke-width="1.3" fill="none"/><path d="M495.79 403.06H501.39M498.59 399.86V406.26" stroke="#00ffff" stroke-width="1.3" fill="none"/><path d="M506.58 403.09H512.18M509.38 399.89V406.29" stroke="#00ffff" stroke-width="1.3" fill="none"/><path d="M517.36 403.13H522.96M520.16 399.93V406.33" stroke="#00ffff" stroke-width="1.3" fill="none"/><path d="M528.15 403.17H533.75M530.95 399.97V406.37" stroke="#00ffff" stroke-width="1.3" fill="none"/>
<polyline points="326.03,356.5 326.89,364 328.19,367 330.35,369 334.23,372.5 541.3,372.9" fill="none" stroke="#0000ff" stroke-width="1.5" stroke-linejoin="round"/>
<polygon points="326.03,352.7 328.23,356.5 326.03,360.3 323.83,356.5" fill="none" stroke="#0000ff" stroke-width="1.3"/><polygon points="336.82,368.7 339.02,372.5 336.82,376.31 334.62,372.5" fill="none" stroke="#0000ff" stroke-width="1.3"/><polygon points="347.6,368.73 349.8,372.53 347.6,376.33 345.4,372.53" fill="none" stroke="#0000ff" stroke-width="1.3"/><polygon points="358.39,368.75 360.59,372.55 358.39,376.35 356.19,372.55" fill="none" stroke="#0000ff" stroke-width="1.3"/><polygon points="369.17,368.77 371.37,372.57 369.17,376.37 366.97,372.57" fill="none" stroke="#0000ff" stroke-width="1.3"/><polygon points="379.96,368.79 382.16,372.59 379.96,376.39 377.76,372.59" fill="none" stroke="#0000ff" stroke-width="1.3"/><polygon points="390.74,368.81 392.94,372.61 390.74,376.41 388.54,372.61" fill="none" stroke="#0000ff" stroke-width="1.3"/><polygon points="401.53,368.83 403.73,372.63 401.53,376.43 399.33,372.63" fill="none" stroke="#0000ff" stroke-width="1.3"/><polygon points="412.31,368.85 414.51,372.65 412.31,376.45 410.11,372.65" fill="none" stroke="#0000ff" stroke-width="1.3"/><polygon points="423.1,368.87 425.3,372.67 423.1,376.47 420.9,372.67" fill="none" stroke="#0000ff" stroke-width="1.3"/><polygon points="433.88,368.89 436.08,372.69 433.88,376.49 431.68,372.69" fill="none" stroke="#0000ff" stroke-width="1.3"/><polygon points="444.67,368.91 446.87,372.71 444.67,376.51 442.47,372.71" fill="none" stroke="#0000ff" stroke-width="1.3"/><polygon points="455.45,368.93 457.65,372.73 455.45,376.53 453.25,372.73" fill="none" stroke="#0000ff" stroke-width="1.3"/><polygon points="466.24,368.95 468.44,372.75 466.24,376.56 464.04,372.75" fill="none" stroke="#0000ff" stroke-width="1.3"/><polygon points="477.02,368.98 479.22,372.78 477.02,376.58 474.82,372.78" fill="none" stroke="#0000ff" stroke-width="1.3"/><polygon points="487.81,369 490.01,372.8 487.81,376.6 485.61,372.8" fill="none" stroke="#0000ff" stroke-width="1.3"/><polygon points="498.59,369.02 500.79,372.82 498.59,376.62 496.39,372.82" fill="none" stroke="#0000ff" stroke-width="1.3"/><polygon points="509.38,369.04 511.58,372.84 509.38,376.64 507.18,372.84" fill="none" stroke="#0000ff" stroke-width="1.3"/><polygon points="520.16,369.06 522.36,372.86 520.16,376.66 517.96,372.86" fill="none" stroke="#0000ff" stroke-width="1.3"/><polygon points="530.95,369.08 533.15,372.88 530.95,376.68 528.75,372.88" fill="none" stroke="#0000ff" stroke-width="1.3"/>
<polyline points="326.03,238.5 326.89,260 328.19,290 329.91,326.4 332.07,341 333.37,379 336.82,380.9 339.84,385.2 341.13,393.8 345.44,396.1 351.92,397.4 541.3,398.3" fill="none" stroke="#00ff00" stroke-width="1.5" stroke-linejoin="round"/>
<ellipse cx="326.03" cy="238.5" rx="2.4" ry="2.6" fill="#00ff00"/><ellipse cx="336.82" cy="380.9" rx="2.4" ry="2.6" fill="#00ff00"/><ellipse cx="347.6" cy="396.53" rx="2.4" ry="2.6" fill="#00ff00"/><ellipse cx="358.39" cy="397.43" rx="2.4" ry="2.6" fill="#00ff00"/><ellipse cx="369.17" cy="397.48" rx="2.4" ry="2.6" fill="#00ff00"/><ellipse cx="379.96" cy="397.53" rx="2.4" ry="2.6" fill="#00ff00"/><ellipse cx="390.74" cy="397.58" rx="2.4" ry="2.6" fill="#00ff00"/><ellipse cx="401.53" cy="397.64" rx="2.4" ry="2.6" fill="#00ff00"/><ellipse cx="412.31" cy="397.69" rx="2.4" ry="2.6" fill="#00ff00"/><ellipse cx="423.1" cy="397.74" rx="2.4" ry="2.6" fill="#00ff00"/><ellipse cx="433.88" cy="397.79" rx="2.4" ry="2.6" fill="#00ff00"/><ellipse cx="444.67" cy="397.84" rx="2.4" ry="2.6" fill="#00ff00"/><ellipse cx="455.45" cy="397.89" rx="2.4" ry="2.6" fill="#00ff00"/><ellipse cx="466.24" cy="397.94" rx="2.4" ry="2.6" fill="#00ff00"/><ellipse cx="477.02" cy="397.99" rx="2.4" ry="2.6" fill="#00ff00"/><ellipse cx="487.81" cy="398.05" rx="2.4" ry="2.6" fill="#00ff00"/><ellipse cx="498.59" cy="398.1" rx="2.4" ry="2.6" fill="#00ff00"/><ellipse cx="509.38" cy="398.15" rx="2.4" ry="2.6" fill="#00ff00"/><ellipse cx="520.16" cy="398.2" rx="2.4" ry="2.6" fill="#00ff00"/><ellipse cx="530.95" cy="398.25" rx="2.4" ry="2.6" fill="#00ff00"/>
<polyline points="326.03,360 326.46,380 326.89,393 327.76,401 329.48,405 332.5,406.3 541.3,406.8" fill="none" stroke="#ff0000" stroke-width="1.5" stroke-linejoin="round"/>
<ellipse cx="326.03" cy="360" rx="2.3" ry="2.8" fill="none" stroke="#ff0000" stroke-width="1.3"/><ellipse cx="336.82" cy="406.31" rx="2.3" ry="2.8" fill="none" stroke="#ff0000" stroke-width="1.3"/><ellipse cx="347.6" cy="406.34" rx="2.3" ry="2.8" fill="none" stroke="#ff0000" stroke-width="1.3"/><ellipse cx="358.39" cy="406.36" rx="2.3" ry="2.8" fill="none" stroke="#ff0000" stroke-width="1.3"/><ellipse cx="369.17" cy="406.39" rx="2.3" ry="2.8" fill="none" stroke="#ff0000" stroke-width="1.3"/><ellipse cx="379.96" cy="406.41" rx="2.3" ry="2.8" fill="none" stroke="#ff0000" stroke-width="1.3"/><ellipse cx="390.74" cy="406.44" rx="2.3" ry="2.8" fill="none" stroke="#ff0000" stroke-width="1.3"/><ellipse cx="401.53" cy="406.47" rx="2.3" ry="2.8" fill="none" stroke="#ff0000" stroke-width="1.3"/><ellipse cx="412.31" cy="406.49" rx="2.3" ry="2.8" fill="none" stroke="#ff0000" stroke-width="1.3"/><ellipse cx="423.1" cy="406.52" rx="2.3" ry="2.8" fill="none" stroke="#ff0000" stroke-width="1.3"/><ellipse cx="433.88" cy="406.54" rx="2.3" ry="2.8" fill="none" stroke="#ff0000" stroke-width="1.3"/><ellipse cx="444.67" cy="406.57" rx="2.3" ry="2.8" fill="none" stroke="#ff0000" stroke-width="1.3"/><ellipse cx="455.45" cy="406.59" rx="2.3" ry="2.8" fill="none" stroke="#ff0000" stroke-width="1.3"/><ellipse cx="466.24" cy="406.62" rx="2.3" ry="2.8" fill="none" stroke="#ff0000" stroke-width="1.3"/><ellipse cx="477.02" cy="406.65" rx="2.3" ry="2.8" fill="none" stroke="#ff0000" stroke-width="1.3"/><ellipse cx="487.81" cy="406.67" rx="2.3" ry="2.8" fill="none" stroke="#ff0000" stroke-width="1.3"/><ellipse cx="498.59" cy="406.7" rx="2.3" ry="2.8" fill="none" stroke="#ff0000" stroke-width="1.3"/><ellipse cx="509.38" cy="406.72" rx="2.3" ry="2.8" fill="none" stroke="#ff0000" stroke-width="1.3"/><ellipse cx="520.16" cy="406.75" rx="2.3" ry="2.8" fill="none" stroke="#ff0000" stroke-width="1.3"/><ellipse cx="530.95" cy="406.78" rx="2.3" ry="2.8" fill="none" stroke="#ff0000" stroke-width="1.3"/>
<g font-family="'Liberation Sans', Arial, Helvetica, sans-serif" fill="#1a1a1a"><text transform="translate(432.25 234.6) scale(0.97 1)" font-size="10.3" text-anchor="middle">F12convergence curve</text></g>
<text x="433.45" y="430.1" text-anchor="middle" font-family="'Liberation Sans', Arial, Helvetica, sans-serif" font-size="10.1" fill="#1a1a1a">iterations</text>
<text transform="translate(304 322.85) rotate(-90)" text-anchor="middle" font-family="'Liberation Sans', Arial, Helvetica, sans-serif" font-size="9.9" fill="#262626">fitness</text>
<rect x="451.3" y="243.8" width="84.5" height="26" fill="#fff" stroke="#262626" stroke-width="0.8"/>
<g font-family="'Liberation Sans', Arial, Helvetica, sans-serif" fill="#111"><path d="M453.7 248.8H473.3" stroke="#ff00ff" stroke-width="1.5"/><polygon points="461,248.8 466,245.5 466,252.1" fill="none" stroke="#ff00ff" stroke-width="1.3"/><text transform="translate(474.9 251.1) scale(0.86 1)" font-size="6.8">mfoa</text><path d="M453.7 257.1H473.3" stroke="#000000" stroke-width="1.5" stroke-dasharray="3.2 1.3 0.8 1.3"/><polygon points="463.5,254.3 466.6,259.9 460.4,259.9" fill="none" stroke="#000000" stroke-width="1.3"/><text transform="translate(474.9 259.4) scale(0.86 1)" font-size="6.8">mpso</text><path d="M453.7 265.4H473.3" stroke="#00ffff" stroke-width="1.5"/><path d="M460.7 265.4H466.3M463.5 262.2V268.6" stroke="#00ffff" stroke-width="1.3" fill="none"/><text transform="translate(474.9 267.7) scale(0.86 1)" font-size="6.8">msca</text><path d="M494.3 248.8H513.3" stroke="#0000ff" stroke-width="1.5"/><polygon points="503.8,245 506,248.8 503.8,252.6 501.6,248.8" fill="none" stroke="#0000ff" stroke-width="1.3"/><text transform="translate(515.3 251.1) scale(0.86 1)" font-size="6.8">mswoa</text><path d="M494.3 257.1H513.3" stroke="#00ff00" stroke-width="1.5"/><ellipse cx="503.8" cy="257.1" rx="2.4" ry="2.6" fill="#00ff00"/><text transform="translate(515.3 259.4) scale(0.86 1)" font-size="6.8">woa</text><path d="M494.3 265.4H513.3" stroke="#ff0000" stroke-width="1.5"/><ellipse cx="503.8" cy="265.4" rx="2.3" ry="2.8" fill="none" stroke="#ff0000" stroke-width="1.3"/><text transform="translate(515.3 267.7) scale(0.86 1)" font-size="6.8">iwoa</text></g>
<text x="368" y="443.8" font-family="'Liberation Serif', 'Times New Roman', serif" font-size="11.0" fill="#111" textLength="123.8" lengthAdjust="spacingAndGlyphs">(<tspan font-weight="bold">d</tspan>) Convergence plot of F12</text>
</svg>
</body></html>
